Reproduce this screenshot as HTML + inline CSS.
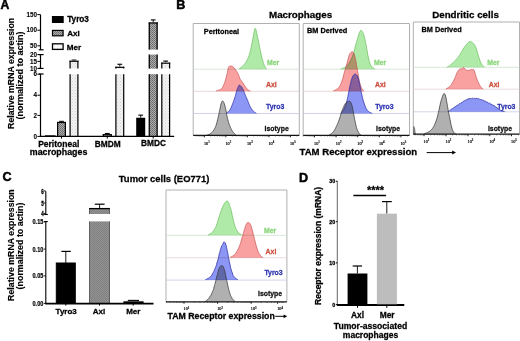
<!DOCTYPE html>
<html><head><meta charset="utf-8"><style>
html,body{margin:0;padding:0;background:#fff;}
svg{display:block;}
</style></head><body>
<svg width="520" height="341" viewBox="0 0 520 341" font-family="Liberation Sans, Arial, sans-serif">
<defs>
<pattern id="axl" width="2" height="2" patternUnits="userSpaceOnUse"><rect width="2" height="2" fill="#aaaaaa"/><rect width="1" height="1" fill="#6c6c6c"/><rect x="1" y="1" width="1" height="1" fill="#787878"/></pattern>
<pattern id="axlc" width="2" height="2" patternUnits="userSpaceOnUse"><rect width="2" height="2" fill="#939393"/><rect width="1" height="1" fill="#808080"/><rect x="1" y="1" width="1" height="1" fill="#808080"/></pattern>
<pattern id="mer" width="3" height="3" patternUnits="userSpaceOnUse"><rect width="3" height="3" fill="#f2f2f2"/><rect width="1" height="1" fill="#d4d4d4"/><rect x="1.5" y="1.5" width="1" height="1" fill="#dadada"/></pattern>
<pattern id="merl" width="3" height="3" patternUnits="userSpaceOnUse"><rect width="3" height="3" fill="#fafafa"/><rect width="1" height="1" fill="#e0e0e0"/></pattern>
</defs>
<rect width="520" height="341" fill="#fff"/>
<text x="0.5" y="9.3" font-size="12.2" font-weight="bold" text-anchor="start" fill="#000" stroke="#000" stroke-width="0.5" >A</text>
<text transform="translate(14.4,73.4) rotate(-90)" font-size="8.75" font-weight="bold" text-anchor="middle" fill="#000" stroke="#000" stroke-width="0.15">Relative mRNA expression</text>
<text transform="translate(22.6,75.5) rotate(-90)" font-size="9.0" font-weight="bold" text-anchor="middle" fill="#000" stroke="#000" stroke-width="0.15">(normalized to actin)</text>
<line x1="40.5" y1="14.6" x2="40.5" y2="49.8" stroke="#000" stroke-width="1.2" />
<line x1="40.5" y1="54.6" x2="40.5" y2="68.4" stroke="#000" stroke-width="1.2" />
<line x1="40.5" y1="74.0" x2="40.5" y2="136.4" stroke="#000" stroke-width="1.2" />
<line x1="38.7" y1="49.8" x2="43.6" y2="49.8" stroke="#000" stroke-width="1.2" />
<line x1="38.7" y1="54.6" x2="43.6" y2="54.6" stroke="#000" stroke-width="1.2" />
<line x1="38.7" y1="68.4" x2="43.6" y2="68.4" stroke="#000" stroke-width="1.2" />
<line x1="38.7" y1="74.0" x2="43.6" y2="74.0" stroke="#000" stroke-width="1.2" />
<line x1="37.4" y1="14.6" x2="40.5" y2="14.6" stroke="#000" stroke-width="1.0" />
<text x="37.0" y="16.8" font-size="6.3" font-weight="bold" text-anchor="end" fill="#000" stroke="#000" stroke-width="0.08" >150</text>
<line x1="37.4" y1="30.2" x2="40.5" y2="30.2" stroke="#000" stroke-width="1.0" />
<text x="37.0" y="32.4" font-size="6.3" font-weight="bold" text-anchor="end" fill="#000" stroke="#000" stroke-width="0.08" >100</text>
<line x1="37.4" y1="45.8" x2="40.5" y2="45.8" stroke="#000" stroke-width="1.0" />
<text x="37.0" y="48.0" font-size="6.3" font-weight="bold" text-anchor="end" fill="#000" stroke="#000" stroke-width="0.08" >50</text>
<line x1="37.4" y1="54.6" x2="40.5" y2="54.6" stroke="#000" stroke-width="1.0" />
<text x="37.0" y="56.8" font-size="6.3" font-weight="bold" text-anchor="end" fill="#000" stroke="#000" stroke-width="0.08" >20</text>
<line x1="37.4" y1="61.4" x2="40.5" y2="61.4" stroke="#000" stroke-width="1.0" />
<text x="37.0" y="63.6" font-size="6.3" font-weight="bold" text-anchor="end" fill="#000" stroke="#000" stroke-width="0.08" >15</text>
<line x1="37.4" y1="68.4" x2="40.5" y2="68.4" stroke="#000" stroke-width="1.0" />
<text x="37.0" y="70.6" font-size="6.3" font-weight="bold" text-anchor="end" fill="#000" stroke="#000" stroke-width="0.08" >10</text>
<line x1="37.4" y1="74.2" x2="40.5" y2="74.2" stroke="#000" stroke-width="1.0" />
<text x="37.0" y="76.4" font-size="6.3" font-weight="bold" text-anchor="end" fill="#000" stroke="#000" stroke-width="0.08" >6</text>
<line x1="37.4" y1="95.2" x2="40.5" y2="95.2" stroke="#000" stroke-width="1.0" />
<text x="37.0" y="97.4" font-size="6.3" font-weight="bold" text-anchor="end" fill="#000" stroke="#000" stroke-width="0.08" >4</text>
<line x1="37.4" y1="115.4" x2="40.5" y2="115.4" stroke="#000" stroke-width="1.0" />
<text x="37.0" y="117.6" font-size="6.3" font-weight="bold" text-anchor="end" fill="#000" stroke="#000" stroke-width="0.08" >2</text>
<line x1="37.4" y1="136.4" x2="40.5" y2="136.4" stroke="#000" stroke-width="1.0" />
<text x="37.0" y="138.6" font-size="6.3" font-weight="bold" text-anchor="end" fill="#000" stroke="#000" stroke-width="0.08" >0</text>
<rect x="44.5" y="136.09" width="9.0" height="0.6" fill="#000" stroke="none" stroke-width="0"/>
<line x1="61.5" y1="121.3635" x2="61.5" y2="121.882" stroke="#000" stroke-width="0.9" />
<line x1="59.1" y1="121.3635" x2="63.9" y2="121.3635" stroke="#000" stroke-width="1.1" />
<rect x="57.0" y="121.88" width="9.0" height="14.52" fill="url(#axl)" stroke="none" stroke-width="0"/>
<line x1="57.6" y1="121.882" x2="57.6" y2="136.4" stroke="#000" stroke-width="1.2" />
<line x1="65.4" y1="121.882" x2="65.4" y2="136.4" stroke="#000" stroke-width="1.2" />
<line x1="57.0" y1="122.48" x2="66.0" y2="122.48" stroke="#000" stroke-width="1.2" />
<line x1="74.0" y1="60.120000000000005" x2="74.0" y2="60.672000000000004" stroke="#000" stroke-width="0.9" />
<line x1="71.6" y1="60.120000000000005" x2="76.4" y2="60.120000000000005" stroke="#000" stroke-width="1.1" />
<rect x="69.5" y="60.67" width="9.0" height="7.93" fill="url(#mer)" stroke="none" stroke-width="0"/>
<line x1="70.1" y1="60.672000000000004" x2="70.1" y2="68.6" stroke="#000" stroke-width="1.2" />
<line x1="77.9" y1="60.672000000000004" x2="77.9" y2="68.6" stroke="#000" stroke-width="1.2" />
<line x1="69.5" y1="61.27" x2="78.5" y2="61.27" stroke="#000" stroke-width="1.2" />
<rect x="69.5" y="74.2" width="9.0" height="62.2" fill="url(#mer)" stroke="none" stroke-width="0"/>
<line x1="70.1" y1="74.2" x2="70.1" y2="136.4" stroke="#000" stroke-width="1.2" />
<line x1="77.9" y1="74.2" x2="77.9" y2="136.4" stroke="#000" stroke-width="1.2" />
<rect x="90.3" y="136.19" width="9.0" height="0.6" fill="#000" stroke="none" stroke-width="0"/>
<line x1="107.3" y1="133.4964" x2="107.3" y2="134.11860000000001" stroke="#000" stroke-width="0.9" />
<line x1="104.89999999999999" y1="133.4964" x2="109.7" y2="133.4964" stroke="#000" stroke-width="1.1" />
<rect x="102.8" y="134.12" width="9.0" height="2.28" fill="url(#axl)" stroke="none" stroke-width="0"/>
<line x1="103.4" y1="134.11860000000001" x2="103.4" y2="136.4" stroke="#000" stroke-width="1.2" />
<line x1="111.2" y1="134.11860000000001" x2="111.2" y2="136.4" stroke="#000" stroke-width="1.2" />
<line x1="102.8" y1="134.72" x2="111.8" y2="134.72" stroke="#000" stroke-width="1.2" />
<line x1="119.8" y1="64.26" x2="119.8" y2="66.744" stroke="#000" stroke-width="0.9" />
<line x1="117.39999999999999" y1="64.26" x2="122.2" y2="64.26" stroke="#000" stroke-width="1.1" />
<rect x="115.3" y="66.74" width="9.0" height="1.86" fill="url(#mer)" stroke="none" stroke-width="0"/>
<line x1="115.9" y1="66.744" x2="115.9" y2="68.6" stroke="#000" stroke-width="1.2" />
<line x1="123.7" y1="66.744" x2="123.7" y2="68.6" stroke="#000" stroke-width="1.2" />
<line x1="115.3" y1="67.34" x2="124.3" y2="67.34" stroke="#000" stroke-width="1.2" />
<rect x="115.3" y="74.2" width="9.0" height="62.2" fill="url(#mer)" stroke="none" stroke-width="0"/>
<line x1="115.9" y1="74.2" x2="115.9" y2="136.4" stroke="#000" stroke-width="1.2" />
<line x1="123.7" y1="74.2" x2="123.7" y2="136.4" stroke="#000" stroke-width="1.2" />
<line x1="140.7" y1="115.14150000000001" x2="140.7" y2="117.73400000000001" stroke="#000" stroke-width="0.9" />
<line x1="138.29999999999998" y1="115.14150000000001" x2="143.1" y2="115.14150000000001" stroke="#000" stroke-width="1.1" />
<rect x="136.2" y="117.73" width="9.0" height="18.67" fill="#000" stroke="none" stroke-width="0"/>
<line x1="153.2" y1="19.904" x2="153.2" y2="22.4" stroke="#000" stroke-width="0.9" />
<line x1="150.79999999999998" y1="19.904" x2="155.6" y2="19.904" stroke="#000" stroke-width="1.1" />
<rect x="148.7" y="22.4" width="9.0" height="27.2" fill="url(#axl)" stroke="none" stroke-width="0"/>
<line x1="149.3" y1="22.4" x2="149.3" y2="49.6" stroke="#000" stroke-width="1.2" />
<line x1="157.1" y1="22.4" x2="157.1" y2="49.6" stroke="#000" stroke-width="1.2" />
<line x1="148.7" y1="23.0" x2="157.7" y2="23.0" stroke="#000" stroke-width="1.2" />
<rect x="148.7" y="54.6" width="9.0" height="14.0" fill="url(#axl)" stroke="none" stroke-width="0"/>
<line x1="149.3" y1="54.6" x2="149.3" y2="68.6" stroke="#000" stroke-width="1.2" />
<line x1="157.1" y1="54.6" x2="157.1" y2="68.6" stroke="#000" stroke-width="1.2" />
<rect x="148.7" y="74.2" width="9.0" height="62.2" fill="url(#axl)" stroke="none" stroke-width="0"/>
<line x1="149.3" y1="74.2" x2="149.3" y2="136.4" stroke="#000" stroke-width="1.2" />
<line x1="157.1" y1="74.2" x2="157.1" y2="136.4" stroke="#000" stroke-width="1.2" />
<line x1="165.7" y1="61.086" x2="165.7" y2="62.604" stroke="#000" stroke-width="0.9" />
<line x1="163.29999999999998" y1="61.086" x2="168.1" y2="61.086" stroke="#000" stroke-width="1.1" />
<rect x="161.2" y="62.6" width="9.0" height="6.0" fill="url(#mer)" stroke="none" stroke-width="0"/>
<line x1="161.8" y1="62.604" x2="161.8" y2="68.6" stroke="#000" stroke-width="1.2" />
<line x1="169.6" y1="62.604" x2="169.6" y2="68.6" stroke="#000" stroke-width="1.2" />
<line x1="161.2" y1="63.2" x2="170.2" y2="63.2" stroke="#000" stroke-width="1.2" />
<rect x="161.2" y="74.2" width="9.0" height="62.2" fill="url(#mer)" stroke="none" stroke-width="0"/>
<line x1="161.8" y1="74.2" x2="161.8" y2="136.4" stroke="#000" stroke-width="1.2" />
<line x1="169.6" y1="74.2" x2="169.6" y2="136.4" stroke="#000" stroke-width="1.2" />
<line x1="39.9" y1="136.4" x2="174.2" y2="136.4" stroke="#000" stroke-width="1.4" />
<line x1="45.0" y1="135.5" x2="55.5" y2="135.5" stroke="#000" stroke-width="0.7" />
<line x1="61.5" y1="136.4" x2="61.5" y2="138.6" stroke="#000" stroke-width="1.0" />
<line x1="107.3" y1="136.4" x2="107.3" y2="138.6" stroke="#000" stroke-width="1.0" />
<line x1="153.2" y1="136.4" x2="153.2" y2="138.6" stroke="#000" stroke-width="1.0" />
<text x="58.7" y="146.9" font-size="8.5" font-weight="bold" text-anchor="middle" fill="#000" stroke="#000" stroke-width="0.26" >Peritoneal</text>
<text x="58.6" y="154.9" font-size="8.85" font-weight="bold" text-anchor="middle" fill="#000" stroke="#000" stroke-width="0.26" >macrophages</text>
<text x="107.7" y="146.9" font-size="8.3" font-weight="bold" text-anchor="middle" fill="#000" stroke="#000" stroke-width="0.26" >BMDM</text>
<text x="153.5" y="146.3" font-size="8.3" font-weight="bold" text-anchor="middle" fill="#000" stroke="#000" stroke-width="0.26" >BMDC</text>
<rect x="52.5" y="16.6" width="10.6" height="5.8" fill="#000" stroke="#000" stroke-width="1.2"/>
<rect x="52.5" y="30.4" width="10.6" height="5.4" fill="url(#axl)" stroke="#000" stroke-width="1.2"/>
<rect x="52.5" y="43.8" width="10.6" height="5.6" fill="url(#merl)" stroke="#000" stroke-width="1.3"/>
<text x="67.2" y="22.1" font-size="8.2" font-weight="bold" text-anchor="start" fill="#000" stroke="#000" stroke-width="0.26" >Tyro3</text>
<text x="67.2" y="36.0" font-size="8.1" font-weight="bold" text-anchor="start" fill="#000" stroke="#000" stroke-width="0.26" >Axl</text>
<text x="66.8" y="49.6" font-size="8.1" font-weight="bold" text-anchor="start" fill="#000" stroke="#000" stroke-width="0.26" >Mer</text>
<text x="176.2" y="9.3" font-size="12.6" font-weight="bold" text-anchor="start" fill="#000" stroke="#000" stroke-width="0.5" >B</text>
<text x="269.0" y="18.4" font-size="9.8" font-weight="bold" text-anchor="start" fill="#000" stroke="#000" stroke-width="0.26" >Macrophages</text>
<text x="432.2" y="18.2" font-size="9.75" font-weight="bold" text-anchor="start" fill="#000" stroke="#000" stroke-width="0.26" >Dendritic cells</text>
<path d="M193.2,135.3 L193.2,23.5 L299.3,23.5 L299.3,135.3" fill="none" stroke="#b0b0b0" stroke-width="1.0"/>
<text x="203.8" y="33.8" font-size="7.3" font-weight="bold" text-anchor="start" fill="#000" stroke="#000" stroke-width="0.26" >Peritoneal</text>
<line x1="193.2" y1="69.2" x2="299.3" y2="69.2" stroke="#cadcca" stroke-width="0.7" />
<line x1="193.2" y1="91.3" x2="299.3" y2="91.3" stroke="#e2caca" stroke-width="0.7" />
<line x1="193.2" y1="113.5" x2="299.3" y2="113.5" stroke="#c0c2e4" stroke-width="0.7" />
<path d="M303.2,135.3 L303.2,23.5 L409.5,23.5 L409.5,135.3" fill="none" stroke="#b0b0b0" stroke-width="1.0"/>
<text x="307.0" y="32.6" font-size="7.3" font-weight="bold" text-anchor="start" fill="#000" stroke="#000" stroke-width="0.26" >BM Derived</text>
<line x1="303.2" y1="69.2" x2="409.5" y2="69.2" stroke="#cadcca" stroke-width="0.7" />
<line x1="303.2" y1="91.3" x2="409.5" y2="91.3" stroke="#e2caca" stroke-width="0.7" />
<line x1="303.2" y1="113.5" x2="409.5" y2="113.5" stroke="#c0c2e4" stroke-width="0.7" />
<path d="M413.3,134.2 L413.3,22.0 L519.5,22.0 L519.5,134.2" fill="none" stroke="#b0b0b0" stroke-width="1.0"/>
<text x="421.5" y="31.6" font-size="7.3" font-weight="bold" text-anchor="start" fill="#000" stroke="#000" stroke-width="0.26" >BM Derived</text>
<line x1="413.3" y1="67.3" x2="519.5" y2="67.3" stroke="#cadcca" stroke-width="0.7" />
<line x1="413.3" y1="89.2" x2="519.5" y2="89.2" stroke="#e2caca" stroke-width="0.7" />
<line x1="413.3" y1="111.8" x2="519.5" y2="111.8" stroke="#c0c2e4" stroke-width="0.7" />
<path d="M238.50,69.20 L238.50,69.20 L238.70,69.05 L238.95,68.88 L239.25,68.68 L239.58,68.46 L239.94,68.22 L240.32,67.96 L240.72,67.69 L241.13,67.40 L241.54,67.10 L241.94,66.79 L242.34,66.47 L242.72,66.15 L243.08,65.83 L243.40,65.50 L243.82,65.04 L244.23,64.57 L244.62,64.09 L245.00,63.59 L245.37,63.08 L245.73,62.54 L246.08,61.97 L246.42,61.38 L246.76,60.76 L247.10,60.10 L247.51,59.25 L247.90,58.39 L248.29,57.49 L248.66,56.55 L249.02,55.54 L249.38,54.46 L249.74,53.28 L250.10,52.00 L250.47,50.55 L250.84,48.92 L251.21,47.17 L251.58,45.36 L251.94,43.54 L252.28,41.76 L252.60,40.10 L252.90,38.60 L253.41,35.83 L253.85,33.27 L254.24,31.13 L254.60,29.60 L255.00,28.53 L255.35,28.44 L255.80,29.40 L256.15,30.57 L256.55,32.20 L256.97,34.17 L257.43,36.34 L257.90,38.60 L258.26,40.34 L258.65,42.28 L259.05,44.33 L259.46,46.41 L259.86,48.44 L260.25,50.33 L260.60,52.00 L261.05,54.00 L261.46,55.75 L261.85,57.31 L262.22,58.74 L262.60,60.10 L262.96,61.38 L263.30,62.54 L263.63,63.59 L263.99,64.57 L264.40,65.50 L264.75,66.15 L265.16,66.79 L265.59,67.40 L266.03,67.96 L266.42,68.46 L266.76,68.88 L267.00,69.20 L267.00,69.20 Z" fill="rgb(176,234,168)" style="mix-blend-mode:multiply" stroke="none"/>
<path d="M239.25,68.68 L239.58,68.46 L239.94,68.22 L240.32,67.96 L240.72,67.69 L241.13,67.40 L241.54,67.10 L241.94,66.79 L242.34,66.47 L242.72,66.15 L243.08,65.83 L243.40,65.50 L243.82,65.04 L244.23,64.57 L244.62,64.09 L245.00,63.59 L245.37,63.08 L245.73,62.54 L246.08,61.97 L246.42,61.38 L246.76,60.76 L247.10,60.10 L247.51,59.25 L247.90,58.39 L248.29,57.49 L248.66,56.55 L249.02,55.54 L249.38,54.46 L249.74,53.28 L250.10,52.00 L250.47,50.55 L250.84,48.92 L251.21,47.17 L251.58,45.36 L251.94,43.54 L252.28,41.76 L252.60,40.10 L252.90,38.60 L253.41,35.83 L253.85,33.27 L254.24,31.13 L254.60,29.60 L255.00,28.53 L255.35,28.44 L255.80,29.40 L256.15,30.57 L256.55,32.20 L256.97,34.17 L257.43,36.34 L257.90,38.60 L258.26,40.34 L258.65,42.28 L259.05,44.33 L259.46,46.41 L259.86,48.44 L260.25,50.33 L260.60,52.00 L261.05,54.00 L261.46,55.75 L261.85,57.31 L262.22,58.74 L262.60,60.10 L262.96,61.38 L263.30,62.54 L263.63,63.59 L263.99,64.57 L264.40,65.50 L264.75,66.15 L265.16,66.79 L265.59,67.40 L266.03,67.96 L266.42,68.46" fill="none" stroke="#6cc060" stroke-width="0.75" stroke-linejoin="round"/>
<path d="M214.50,91.30 L214.50,91.30 L214.73,91.24 L215.02,91.18 L215.37,91.10 L215.76,91.01 L216.18,90.90 L216.62,90.78 L217.06,90.65 L217.50,90.50 L217.82,90.39 L218.17,90.29 L218.53,90.19 L218.90,90.09 L219.27,89.98 L219.65,89.85 L220.02,89.71 L220.39,89.53 L220.75,89.33 L221.08,89.09 L221.40,88.80 L221.86,88.27 L222.29,87.66 L222.70,86.98 L223.09,86.23 L223.47,85.43 L223.84,84.58 L224.20,83.70 L224.62,82.60 L225.02,81.41 L225.41,80.16 L225.78,78.86 L226.15,77.54 L226.50,76.20 L226.92,74.45 L227.32,72.53 L227.71,70.64 L228.07,68.96 L228.40,67.70 L228.79,66.66 L229.11,66.40 L229.60,66.30 L229.87,66.21 L230.18,66.12 L230.52,66.05 L230.88,66.01 L231.26,66.00 L231.64,66.04 L232.02,66.13 L232.40,66.30 L232.78,66.55 L233.16,66.86 L233.55,67.23 L233.95,67.66 L234.35,68.11 L234.74,68.60 L235.12,69.10 L235.50,69.60 L235.87,70.12 L236.24,70.68 L236.62,71.26 L236.98,71.86 L237.34,72.48 L237.68,73.09 L238.00,73.70 L238.30,74.30 L238.73,75.28 L239.11,76.31 L239.46,77.32 L239.78,78.24 L240.10,79.00 L240.47,79.65 L240.79,80.07 L241.12,80.43 L241.50,80.90 L241.84,81.39 L242.20,81.91 L242.58,82.47 L242.98,83.07 L243.40,83.70 L243.77,84.27 L244.15,84.90 L244.54,85.55 L244.95,86.20 L245.37,86.83 L245.80,87.40 L246.18,87.86 L246.57,88.32 L246.96,88.75 L247.37,89.17 L247.77,89.55 L248.19,89.90 L248.60,90.20 L248.99,90.43 L249.41,90.62 L249.84,90.79 L250.28,90.92 L250.69,91.04 L251.06,91.14 L251.37,91.23 L251.60,91.30 L251.60,91.30 Z" fill="rgb(249,160,160)" style="mix-blend-mode:multiply" stroke="none"/>
<path d="M216.18,90.90 L216.62,90.78 L217.06,90.65 L217.50,90.50 L217.82,90.39 L218.17,90.29 L218.53,90.19 L218.90,90.09 L219.27,89.98 L219.65,89.85 L220.02,89.71 L220.39,89.53 L220.75,89.33 L221.08,89.09 L221.40,88.80 L221.86,88.27 L222.29,87.66 L222.70,86.98 L223.09,86.23 L223.47,85.43 L223.84,84.58 L224.20,83.70 L224.62,82.60 L225.02,81.41 L225.41,80.16 L225.78,78.86 L226.15,77.54 L226.50,76.20 L226.92,74.45 L227.32,72.53 L227.71,70.64 L228.07,68.96 L228.40,67.70 L228.79,66.66 L229.11,66.40 L229.60,66.30 L229.87,66.21 L230.18,66.12 L230.52,66.05 L230.88,66.01 L231.26,66.00 L231.64,66.04 L232.02,66.13 L232.40,66.30 L232.78,66.55 L233.16,66.86 L233.55,67.23 L233.95,67.66 L234.35,68.11 L234.74,68.60 L235.12,69.10 L235.50,69.60 L235.87,70.12 L236.24,70.68 L236.62,71.26 L236.98,71.86 L237.34,72.48 L237.68,73.09 L238.00,73.70 L238.30,74.30 L238.73,75.28 L239.11,76.31 L239.46,77.32 L239.78,78.24 L240.10,79.00 L240.47,79.65 L240.79,80.07 L241.12,80.43 L241.50,80.90 L241.84,81.39 L242.20,81.91 L242.58,82.47 L242.98,83.07 L243.40,83.70 L243.77,84.27 L244.15,84.90 L244.54,85.55 L244.95,86.20 L245.37,86.83 L245.80,87.40 L246.18,87.86 L246.57,88.32 L246.96,88.75 L247.37,89.17 L247.77,89.55 L248.19,89.90 L248.60,90.20 L248.99,90.43 L249.41,90.62 L249.84,90.79 L250.28,90.92" fill="none" stroke="#c85a5a" stroke-width="0.75" stroke-linejoin="round"/>
<path d="M225.50,113.50 L225.50,113.50 L225.73,113.34 L226.02,113.16 L226.37,112.96 L226.77,112.72 L227.19,112.46 L227.64,112.18 L228.08,111.86 L228.53,111.52 L228.95,111.14 L229.35,110.74 L229.70,110.30 L230.14,109.62 L230.55,108.85 L230.94,108.01 L231.31,107.12 L231.67,106.21 L232.02,105.28 L232.36,104.37 L232.70,103.50 L233.14,102.37 L233.56,101.23 L233.97,100.10 L234.36,98.97 L234.74,97.83 L235.10,96.70 L235.52,95.29 L235.92,93.84 L236.29,92.40 L236.65,91.07 L237.00,89.90 L237.42,88.67 L237.81,87.64 L238.18,86.78 L238.50,86.10 L238.98,85.31 L239.40,85.10 L239.89,85.39 L240.40,85.90 L240.84,86.09 L241.40,86.60 L241.72,87.07 L242.10,87.66 L242.50,88.34 L242.91,89.10 L243.30,89.90 L243.67,90.76 L244.03,91.70 L244.40,92.70 L244.78,93.74 L245.20,94.80 L245.53,95.58 L245.87,96.39 L246.23,97.22 L246.60,98.07 L246.98,98.92 L247.34,99.76 L247.70,100.60 L248.10,101.58 L248.49,102.59 L248.87,103.59 L249.27,104.57 L249.67,105.51 L250.10,106.40 L250.44,107.03 L250.79,107.65 L251.15,108.25 L251.52,108.83 L251.89,109.37 L252.26,109.89 L252.63,110.36 L253.00,110.80 L253.36,111.19 L253.72,111.54 L254.09,111.86 L254.45,112.14 L254.81,112.40 L255.18,112.62 L255.54,112.82 L255.90,113.00 L256.28,113.15 L256.69,113.26 L257.11,113.33 L257.53,113.39 L257.92,113.42 L258.28,113.45 L258.58,113.47 L258.80,113.50 L258.80,113.50 Z" fill="rgb(140,150,244)" style="mix-blend-mode:multiply" stroke="none"/>
<path d="M226.37,112.96 L226.77,112.72 L227.19,112.46 L227.64,112.18 L228.08,111.86 L228.53,111.52 L228.95,111.14 L229.35,110.74 L229.70,110.30 L230.14,109.62 L230.55,108.85 L230.94,108.01 L231.31,107.12 L231.67,106.21 L232.02,105.28 L232.36,104.37 L232.70,103.50 L233.14,102.37 L233.56,101.23 L233.97,100.10 L234.36,98.97 L234.74,97.83 L235.10,96.70 L235.52,95.29 L235.92,93.84 L236.29,92.40 L236.65,91.07 L237.00,89.90 L237.42,88.67 L237.81,87.64 L238.18,86.78 L238.50,86.10 L238.98,85.31 L239.40,85.10 L239.89,85.39 L240.40,85.90 L240.84,86.09 L241.40,86.60 L241.72,87.07 L242.10,87.66 L242.50,88.34 L242.91,89.10 L243.30,89.90 L243.67,90.76 L244.03,91.70 L244.40,92.70 L244.78,93.74 L245.20,94.80 L245.53,95.58 L245.87,96.39 L246.23,97.22 L246.60,98.07 L246.98,98.92 L247.34,99.76 L247.70,100.60 L248.10,101.58 L248.49,102.59 L248.87,103.59 L249.27,104.57 L249.67,105.51 L250.10,106.40 L250.44,107.03 L250.79,107.65 L251.15,108.25 L251.52,108.83 L251.89,109.37 L252.26,109.89 L252.63,110.36 L253.00,110.80 L253.36,111.19 L253.72,111.54 L254.09,111.86 L254.45,112.14 L254.81,112.40 L255.18,112.62 L255.54,112.82 L255.90,113.00 L256.28,113.15" fill="none" stroke="#2e2ea6" stroke-width="0.75" stroke-linejoin="round"/>
<path d="M205.50,135.30 L205.50,135.30 L205.73,135.25 L206.03,135.18 L206.38,135.11 L206.78,135.03 L207.21,134.92 L207.64,134.80 L208.08,134.66 L208.50,134.50 L208.83,134.37 L209.17,134.24 L209.51,134.11 L209.86,133.97 L210.21,133.82 L210.57,133.64 L210.93,133.42 L211.29,133.17 L211.64,132.86 L212.00,132.50 L212.36,132.08 L212.73,131.61 L213.11,131.09 L213.50,130.53 L213.88,129.94 L214.25,129.31 L214.61,128.66 L214.96,127.99 L215.29,127.30 L215.60,126.60 L216.06,125.37 L216.48,124.04 L216.86,122.64 L217.22,121.22 L217.56,119.79 L217.90,118.40 L218.29,116.75 L218.66,115.09 L219.01,113.44 L219.35,111.80 L219.70,110.20 L220.14,108.11 L220.57,105.98 L221.00,104.06 L221.40,102.60 L221.77,101.70 L222.11,101.21 L222.45,101.04 L222.80,101.10 L223.17,101.37 L223.54,101.90 L223.92,102.68 L224.30,103.70 L224.69,105.01 L225.09,106.60 L225.50,108.36 L225.90,110.20 L226.29,112.16 L226.67,114.27 L227.06,116.39 L227.50,118.40 L227.88,119.89 L228.27,121.34 L228.68,122.74 L229.12,124.09 L229.60,125.40 L229.92,126.21 L230.25,127.00 L230.60,127.79 L230.96,128.56 L231.33,129.30 L231.71,130.01 L232.10,130.68 L232.50,131.30 L232.84,131.77 L233.21,132.24 L233.60,132.68 L234.00,133.10 L234.39,133.50 L234.78,133.87 L235.16,134.21 L235.51,134.51 L235.83,134.78 L236.10,135.00 L236.64,135.30 L237.02,135.30 L237.30,135.30 L237.50,135.30 L237.50,135.30 Z" fill="rgb(176,176,176)" style="mix-blend-mode:multiply" stroke="none"/>
<path d="M207.21,134.92 L207.64,134.80 L208.08,134.66 L208.50,134.50 L208.83,134.37 L209.17,134.24 L209.51,134.11 L209.86,133.97 L210.21,133.82 L210.57,133.64 L210.93,133.42 L211.29,133.17 L211.64,132.86 L212.00,132.50 L212.36,132.08 L212.73,131.61 L213.11,131.09 L213.50,130.53 L213.88,129.94 L214.25,129.31 L214.61,128.66 L214.96,127.99 L215.29,127.30 L215.60,126.60 L216.06,125.37 L216.48,124.04 L216.86,122.64 L217.22,121.22 L217.56,119.79 L217.90,118.40 L218.29,116.75 L218.66,115.09 L219.01,113.44 L219.35,111.80 L219.70,110.20 L220.14,108.11 L220.57,105.98 L221.00,104.06 L221.40,102.60 L221.77,101.70 L222.11,101.21 L222.45,101.04 L222.80,101.10 L223.17,101.37 L223.54,101.90 L223.92,102.68 L224.30,103.70 L224.69,105.01 L225.09,106.60 L225.50,108.36 L225.90,110.20 L226.29,112.16 L226.67,114.27 L227.06,116.39 L227.50,118.40 L227.88,119.89 L228.27,121.34 L228.68,122.74 L229.12,124.09 L229.60,125.40 L229.92,126.21 L230.25,127.00 L230.60,127.79 L230.96,128.56 L231.33,129.30 L231.71,130.01 L232.10,130.68 L232.50,131.30 L232.84,131.77 L233.21,132.24 L233.60,132.68 L234.00,133.10 L234.39,133.50 L234.78,133.87 L235.16,134.21 L235.51,134.51 L235.83,134.78" fill="none" stroke="#383838" stroke-width="0.75" stroke-linejoin="round"/>
<path d="M338.50,69.20 L338.50,69.20 L338.69,69.19 L338.93,69.19 L339.21,69.19 L339.55,69.17 L339.95,69.12 L340.43,69.00 L341.00,68.80 L341.27,68.70 L341.56,68.61 L341.87,68.51 L342.20,68.41 L342.55,68.31 L342.92,68.20 L343.29,68.07 L343.67,67.94 L344.06,67.79 L344.46,67.63 L344.85,67.44 L345.25,67.24 L345.64,67.01 L346.02,66.75 L346.39,66.47 L346.75,66.15 L347.10,65.80 L347.49,65.36 L347.88,64.86 L348.27,64.31 L348.66,63.73 L349.05,63.11 L349.44,62.46 L349.82,61.79 L350.20,61.10 L350.57,60.40 L350.93,59.70 L351.27,59.00 L351.60,58.30 L351.92,57.61 L352.22,56.94 L352.50,56.30 L353.03,54.95 L353.47,53.61 L353.85,52.27 L354.18,50.93 L354.51,49.59 L354.84,48.25 L355.20,46.90 L355.59,45.52 L355.99,44.09 L356.39,42.65 L356.78,41.23 L357.17,39.86 L357.55,38.57 L357.90,37.40 L358.29,36.14 L358.67,34.96 L359.04,33.87 L359.38,32.90 L359.70,32.07 L360.00,31.40 L360.47,30.55 L360.84,30.25 L361.30,30.40 L361.65,30.66 L362.04,31.07 L362.46,31.64 L362.88,32.41 L363.30,33.40 L363.72,34.67 L364.15,36.21 L364.58,37.92 L365.00,39.72 L365.40,41.50 L365.86,43.79 L366.28,46.20 L366.69,48.61 L367.10,50.90 L367.50,53.06 L367.88,55.16 L368.27,57.15 L368.70,59.00 L369.05,60.39 L369.40,61.71 L369.78,62.95 L370.20,64.08 L370.70,65.10 L371.02,65.61 L371.37,66.09 L371.75,66.53 L372.14,66.94 L372.55,67.32 L372.95,67.67 L373.35,67.98 L373.74,68.26 L374.10,68.50 L374.51,68.72 L374.93,68.88 L375.35,68.99 L375.76,69.06 L376.15,69.11 L376.49,69.14 L376.78,69.16 L377.00,69.20 L377.00,69.20 Z" fill="rgb(176,234,168)" style="mix-blend-mode:multiply" stroke="none"/>
<path d="M341.00,68.80 L341.27,68.70 L341.56,68.61 L341.87,68.51 L342.20,68.41 L342.55,68.31 L342.92,68.20 L343.29,68.07 L343.67,67.94 L344.06,67.79 L344.46,67.63 L344.85,67.44 L345.25,67.24 L345.64,67.01 L346.02,66.75 L346.39,66.47 L346.75,66.15 L347.10,65.80 L347.49,65.36 L347.88,64.86 L348.27,64.31 L348.66,63.73 L349.05,63.11 L349.44,62.46 L349.82,61.79 L350.20,61.10 L350.57,60.40 L350.93,59.70 L351.27,59.00 L351.60,58.30 L351.92,57.61 L352.22,56.94 L352.50,56.30 L353.03,54.95 L353.47,53.61 L353.85,52.27 L354.18,50.93 L354.51,49.59 L354.84,48.25 L355.20,46.90 L355.59,45.52 L355.99,44.09 L356.39,42.65 L356.78,41.23 L357.17,39.86 L357.55,38.57 L357.90,37.40 L358.29,36.14 L358.67,34.96 L359.04,33.87 L359.38,32.90 L359.70,32.07 L360.00,31.40 L360.47,30.55 L360.84,30.25 L361.30,30.40 L361.65,30.66 L362.04,31.07 L362.46,31.64 L362.88,32.41 L363.30,33.40 L363.72,34.67 L364.15,36.21 L364.58,37.92 L365.00,39.72 L365.40,41.50 L365.86,43.79 L366.28,46.20 L366.69,48.61 L367.10,50.90 L367.50,53.06 L367.88,55.16 L368.27,57.15 L368.70,59.00 L369.05,60.39 L369.40,61.71 L369.78,62.95 L370.20,64.08 L370.70,65.10 L371.02,65.61 L371.37,66.09 L371.75,66.53 L372.14,66.94 L372.55,67.32 L372.95,67.67 L373.35,67.98 L373.74,68.26 L374.10,68.50 L374.51,68.72" fill="none" stroke="#6cc060" stroke-width="0.75" stroke-linejoin="round"/>
<path d="M331.00,91.30 L331.00,91.30 L331.22,91.29 L331.49,91.30 L331.82,91.30 L332.23,91.26 L332.72,91.13 L333.30,90.90 L333.57,90.78 L333.87,90.64 L334.20,90.49 L334.55,90.34 L334.92,90.17 L335.30,89.98 L335.69,89.79 L336.09,89.58 L336.48,89.36 L336.87,89.12 L337.25,88.87 L337.62,88.60 L337.97,88.32 L338.30,88.02 L338.60,87.70 L339.06,87.13 L339.48,86.51 L339.87,85.85 L340.24,85.14 L340.59,84.40 L340.93,83.62 L341.25,82.81 L341.58,81.97 L341.90,81.10 L342.31,79.92 L342.69,78.66 L343.06,77.34 L343.42,75.99 L343.77,74.61 L344.13,73.24 L344.50,71.90 L344.89,70.56 L345.29,69.19 L345.69,67.81 L346.09,66.44 L346.48,65.11 L346.86,63.82 L347.20,62.60 L347.64,60.95 L348.03,59.35 L348.40,57.86 L348.75,56.52 L349.10,55.40 L349.52,54.37 L349.91,53.66 L350.30,53.14 L350.70,52.70 L351.12,52.28 L351.54,51.94 L351.97,51.76 L352.40,51.80 L352.76,51.98 L353.13,52.27 L353.50,52.70 L353.86,53.27 L354.20,54.00 L354.60,55.19 L354.97,56.64 L355.34,58.28 L355.70,60.00 L356.06,61.84 L356.41,63.83 L356.76,65.88 L357.10,67.90 L357.54,70.58 L357.97,73.26 L358.40,75.80 L358.81,78.15 L359.21,80.37 L359.70,82.50 L360.05,83.78 L360.42,85.08 L360.82,86.32 L361.25,87.44 L361.70,88.40 L362.05,88.96 L362.43,89.45 L362.82,89.87 L363.22,90.22 L363.61,90.52 L363.97,90.78 L364.30,91.00 L364.83,91.24 L365.31,91.30 L365.72,91.30 L366.00,91.30 L366.00,91.30 Z" fill="rgb(249,160,160)" style="mix-blend-mode:multiply" stroke="none"/>
<path d="M333.30,90.90 L333.57,90.78 L333.87,90.64 L334.20,90.49 L334.55,90.34 L334.92,90.17 L335.30,89.98 L335.69,89.79 L336.09,89.58 L336.48,89.36 L336.87,89.12 L337.25,88.87 L337.62,88.60 L337.97,88.32 L338.30,88.02 L338.60,87.70 L339.06,87.13 L339.48,86.51 L339.87,85.85 L340.24,85.14 L340.59,84.40 L340.93,83.62 L341.25,82.81 L341.58,81.97 L341.90,81.10 L342.31,79.92 L342.69,78.66 L343.06,77.34 L343.42,75.99 L343.77,74.61 L344.13,73.24 L344.50,71.90 L344.89,70.56 L345.29,69.19 L345.69,67.81 L346.09,66.44 L346.48,65.11 L346.86,63.82 L347.20,62.60 L347.64,60.95 L348.03,59.35 L348.40,57.86 L348.75,56.52 L349.10,55.40 L349.52,54.37 L349.91,53.66 L350.30,53.14 L350.70,52.70 L351.12,52.28 L351.54,51.94 L351.97,51.76 L352.40,51.80 L352.76,51.98 L353.13,52.27 L353.50,52.70 L353.86,53.27 L354.20,54.00 L354.60,55.19 L354.97,56.64 L355.34,58.28 L355.70,60.00 L356.06,61.84 L356.41,63.83 L356.76,65.88 L357.10,67.90 L357.54,70.58 L357.97,73.26 L358.40,75.80 L358.81,78.15 L359.21,80.37 L359.70,82.50 L360.05,83.78 L360.42,85.08 L360.82,86.32 L361.25,87.44 L361.70,88.40 L362.05,88.96 L362.43,89.45 L362.82,89.87 L363.22,90.22 L363.61,90.52 L363.97,90.78" fill="none" stroke="#c85a5a" stroke-width="0.75" stroke-linejoin="round"/>
<path d="M339.00,113.50 L339.00,113.50 L339.25,113.46 L339.59,113.42 L339.99,113.37 L340.43,113.27 L340.87,113.09 L341.30,112.80 L341.65,112.48 L342.02,112.11 L342.39,111.70 L342.76,111.21 L343.14,110.66 L343.52,110.02 L343.90,109.30 L344.29,108.47 L344.68,107.55 L345.09,106.54 L345.49,105.46 L345.88,104.33 L346.25,103.18 L346.60,102.00 L347.05,100.28 L347.46,98.46 L347.84,96.58 L348.22,94.68 L348.60,92.80 L348.98,90.90 L349.36,88.96 L349.74,87.03 L350.12,85.19 L350.50,83.50 L350.90,81.94 L351.31,80.46 L351.72,79.11 L352.12,77.91 L352.50,76.90 L352.95,75.95 L353.38,75.30 L353.79,74.85 L354.20,74.50 L354.60,74.23 L354.98,74.09 L355.37,74.10 L355.80,74.30 L356.18,74.58 L356.59,74.95 L357.00,75.44 L357.41,76.08 L357.80,76.90 L358.24,78.21 L358.66,79.78 L359.07,81.57 L359.50,83.50 L359.86,85.19 L360.23,87.03 L360.60,88.96 L360.99,90.90 L361.40,92.80 L361.75,94.36 L362.11,95.94 L362.48,97.53 L362.87,99.08 L363.27,100.58 L363.70,102.00 L364.04,103.03 L364.38,104.05 L364.74,105.05 L365.11,106.02 L365.49,106.94 L365.88,107.80 L366.29,108.59 L366.70,109.30 L367.04,109.80 L367.39,110.25 L367.75,110.66 L368.12,111.02 L368.49,111.35 L368.87,111.64 L369.25,111.91 L369.64,112.16 L370.02,112.39 L370.40,112.60 L370.76,112.78 L371.15,112.92 L371.55,113.04 L371.97,113.14 L372.38,113.22 L372.78,113.29 L373.16,113.34 L373.51,113.38 L373.83,113.42 L374.09,113.46 L374.30,113.50 L374.30,113.50 Z" fill="rgb(140,150,244)" style="mix-blend-mode:multiply" stroke="none"/>
<path d="M340.87,113.09 L341.30,112.80 L341.65,112.48 L342.02,112.11 L342.39,111.70 L342.76,111.21 L343.14,110.66 L343.52,110.02 L343.90,109.30 L344.29,108.47 L344.68,107.55 L345.09,106.54 L345.49,105.46 L345.88,104.33 L346.25,103.18 L346.60,102.00 L347.05,100.28 L347.46,98.46 L347.84,96.58 L348.22,94.68 L348.60,92.80 L348.98,90.90 L349.36,88.96 L349.74,87.03 L350.12,85.19 L350.50,83.50 L350.90,81.94 L351.31,80.46 L351.72,79.11 L352.12,77.91 L352.50,76.90 L352.95,75.95 L353.38,75.30 L353.79,74.85 L354.20,74.50 L354.60,74.23 L354.98,74.09 L355.37,74.10 L355.80,74.30 L356.18,74.58 L356.59,74.95 L357.00,75.44 L357.41,76.08 L357.80,76.90 L358.24,78.21 L358.66,79.78 L359.07,81.57 L359.50,83.50 L359.86,85.19 L360.23,87.03 L360.60,88.96 L360.99,90.90 L361.40,92.80 L361.75,94.36 L362.11,95.94 L362.48,97.53 L362.87,99.08 L363.27,100.58 L363.70,102.00 L364.04,103.03 L364.38,104.05 L364.74,105.05 L365.11,106.02 L365.49,106.94 L365.88,107.80 L366.29,108.59 L366.70,109.30 L367.04,109.80 L367.39,110.25 L367.75,110.66 L368.12,111.02 L368.49,111.35 L368.87,111.64 L369.25,111.91 L369.64,112.16 L370.02,112.39 L370.40,112.60 L370.76,112.78 L371.15,112.92 L371.55,113.04 L371.97,113.14" fill="none" stroke="#2e2ea6" stroke-width="0.75" stroke-linejoin="round"/>
<path d="M326.00,135.30 L326.00,135.30 L326.22,135.30 L326.51,135.30 L326.85,135.30 L327.24,135.30 L327.66,135.30 L328.12,135.26 L328.60,135.10 L328.92,134.96 L329.27,134.81 L329.65,134.63 L330.03,134.44 L330.43,134.23 L330.84,133.99 L331.25,133.73 L331.65,133.44 L332.05,133.13 L332.43,132.78 L332.80,132.40 L333.19,131.94 L333.57,131.43 L333.94,130.88 L334.31,130.30 L334.68,129.69 L335.03,129.05 L335.38,128.40 L335.73,127.74 L336.07,127.07 L336.40,126.40 L336.81,125.54 L337.22,124.64 L337.62,123.70 L338.01,122.75 L338.39,121.80 L338.75,120.86 L339.09,119.96 L339.40,119.10 L339.84,117.80 L340.21,116.55 L340.54,115.35 L340.86,114.20 L341.20,113.10 L341.55,112.06 L341.89,111.09 L342.24,110.16 L342.60,109.24 L343.00,108.30 L343.37,107.47 L343.76,106.59 L344.16,105.71 L344.58,104.88 L344.99,104.13 L345.40,103.50 L345.80,103.01 L346.20,102.61 L346.59,102.30 L346.99,102.06 L347.39,101.86 L347.80,101.70 L348.16,101.57 L348.53,101.45 L348.90,101.35 L349.27,101.31 L349.63,101.34 L349.98,101.46 L350.30,101.70 L350.71,102.22 L351.09,102.93 L351.44,103.80 L351.78,104.80 L352.10,105.90 L352.59,108.03 L353.03,110.50 L353.50,113.10 L353.88,115.14 L354.28,117.29 L354.68,119.45 L355.10,121.50 L355.44,123.07 L355.78,124.62 L356.13,126.11 L356.50,127.52 L356.90,128.80 L357.27,129.78 L357.66,130.71 L358.06,131.56 L358.48,132.34 L358.89,133.02 L359.30,133.60 L359.71,134.06 L360.14,134.39 L360.57,134.64 L360.98,134.82 L361.36,134.96 L361.70,135.10 L362.26,135.27 L362.70,135.30 L363.00,135.30 L363.00,135.30 Z" fill="rgb(176,176,176)" style="mix-blend-mode:multiply" stroke="none"/>
<path d="M329.27,134.81 L329.65,134.63 L330.03,134.44 L330.43,134.23 L330.84,133.99 L331.25,133.73 L331.65,133.44 L332.05,133.13 L332.43,132.78 L332.80,132.40 L333.19,131.94 L333.57,131.43 L333.94,130.88 L334.31,130.30 L334.68,129.69 L335.03,129.05 L335.38,128.40 L335.73,127.74 L336.07,127.07 L336.40,126.40 L336.81,125.54 L337.22,124.64 L337.62,123.70 L338.01,122.75 L338.39,121.80 L338.75,120.86 L339.09,119.96 L339.40,119.10 L339.84,117.80 L340.21,116.55 L340.54,115.35 L340.86,114.20 L341.20,113.10 L341.55,112.06 L341.89,111.09 L342.24,110.16 L342.60,109.24 L343.00,108.30 L343.37,107.47 L343.76,106.59 L344.16,105.71 L344.58,104.88 L344.99,104.13 L345.40,103.50 L345.80,103.01 L346.20,102.61 L346.59,102.30 L346.99,102.06 L347.39,101.86 L347.80,101.70 L348.16,101.57 L348.53,101.45 L348.90,101.35 L349.27,101.31 L349.63,101.34 L349.98,101.46 L350.30,101.70 L350.71,102.22 L351.09,102.93 L351.44,103.80 L351.78,104.80 L352.10,105.90 L352.59,108.03 L353.03,110.50 L353.50,113.10 L353.88,115.14 L354.28,117.29 L354.68,119.45 L355.10,121.50 L355.44,123.07 L355.78,124.62 L356.13,126.11 L356.50,127.52 L356.90,128.80 L357.27,129.78 L357.66,130.71 L358.06,131.56 L358.48,132.34 L358.89,133.02 L359.30,133.60 L359.71,134.06 L360.14,134.39 L360.57,134.64 L360.98,134.82" fill="none" stroke="#383838" stroke-width="0.75" stroke-linejoin="round"/>
<path d="M443.00,67.30 L443.00,67.30 L443.22,67.28 L443.50,67.26 L443.82,67.24 L444.19,67.23 L444.59,67.20 L445.01,67.18 L445.44,67.15 L445.89,67.10 L446.33,67.05 L446.76,66.99 L447.17,66.91 L447.55,66.81 L447.90,66.70 L448.31,66.53 L448.69,66.33 L449.06,66.11 L449.40,65.88 L449.74,65.62 L450.08,65.34 L450.42,65.05 L450.76,64.75 L451.12,64.43 L451.50,64.10 L451.86,63.79 L452.23,63.46 L452.60,63.12 L452.99,62.77 L453.37,62.40 L453.76,62.02 L454.15,61.64 L454.55,61.24 L454.93,60.83 L455.32,60.42 L455.70,60.00 L456.08,59.57 L456.46,59.14 L456.84,58.69 L457.22,58.23 L457.60,57.77 L457.98,57.29 L458.35,56.81 L458.72,56.32 L459.09,55.82 L459.45,55.31 L459.80,54.80 L460.18,54.21 L460.56,53.59 L460.93,52.95 L461.30,52.30 L461.66,51.64 L462.01,50.98 L462.37,50.34 L462.71,49.73 L463.06,49.14 L463.40,48.60 L463.78,48.04 L464.15,47.50 L464.52,46.99 L464.88,46.51 L465.24,46.05 L465.59,45.61 L465.94,45.19 L466.27,44.79 L466.60,44.40 L467.01,43.92 L467.40,43.46 L467.79,43.04 L468.16,42.65 L468.52,42.31 L468.87,42.02 L469.20,41.80 L469.63,41.60 L470.01,41.51 L470.39,41.52 L470.77,41.62 L471.20,41.80 L471.54,41.98 L471.91,42.20 L472.30,42.47 L472.69,42.78 L473.08,43.13 L473.45,43.50 L473.80,43.90 L474.26,44.50 L474.70,45.16 L475.12,45.87 L475.52,46.65 L475.90,47.50 L476.34,48.69 L476.74,50.00 L477.12,51.36 L477.50,52.70 L477.88,54.02 L478.25,55.36 L478.62,56.67 L479.00,57.90 L479.38,59.03 L479.76,60.10 L480.16,61.12 L480.60,62.10 L480.99,62.90 L481.41,63.69 L481.84,64.45 L482.28,65.14 L482.70,65.70 L483.11,66.12 L483.52,66.43 L483.92,66.66 L484.31,66.84 L484.70,67.00 L485.10,67.13 L485.52,67.21 L485.92,67.25 L486.26,67.28 L486.50,67.30 L486.50,67.30 Z" fill="rgb(176,234,168)" style="mix-blend-mode:multiply" stroke="none"/>
<path d="M447.17,66.91 L447.55,66.81 L447.90,66.70 L448.31,66.53 L448.69,66.33 L449.06,66.11 L449.40,65.88 L449.74,65.62 L450.08,65.34 L450.42,65.05 L450.76,64.75 L451.12,64.43 L451.50,64.10 L451.86,63.79 L452.23,63.46 L452.60,63.12 L452.99,62.77 L453.37,62.40 L453.76,62.02 L454.15,61.64 L454.55,61.24 L454.93,60.83 L455.32,60.42 L455.70,60.00 L456.08,59.57 L456.46,59.14 L456.84,58.69 L457.22,58.23 L457.60,57.77 L457.98,57.29 L458.35,56.81 L458.72,56.32 L459.09,55.82 L459.45,55.31 L459.80,54.80 L460.18,54.21 L460.56,53.59 L460.93,52.95 L461.30,52.30 L461.66,51.64 L462.01,50.98 L462.37,50.34 L462.71,49.73 L463.06,49.14 L463.40,48.60 L463.78,48.04 L464.15,47.50 L464.52,46.99 L464.88,46.51 L465.24,46.05 L465.59,45.61 L465.94,45.19 L466.27,44.79 L466.60,44.40 L467.01,43.92 L467.40,43.46 L467.79,43.04 L468.16,42.65 L468.52,42.31 L468.87,42.02 L469.20,41.80 L469.63,41.60 L470.01,41.51 L470.39,41.52 L470.77,41.62 L471.20,41.80 L471.54,41.98 L471.91,42.20 L472.30,42.47 L472.69,42.78 L473.08,43.13 L473.45,43.50 L473.80,43.90 L474.26,44.50 L474.70,45.16 L475.12,45.87 L475.52,46.65 L475.90,47.50 L476.34,48.69 L476.74,50.00 L477.12,51.36 L477.50,52.70 L477.88,54.02 L478.25,55.36 L478.62,56.67 L479.00,57.90 L479.38,59.03 L479.76,60.10 L480.16,61.12 L480.60,62.10 L480.99,62.90 L481.41,63.69 L481.84,64.45 L482.28,65.14 L482.70,65.70 L483.11,66.12 L483.52,66.43 L483.92,66.66 L484.31,66.84" fill="none" stroke="#6cc060" stroke-width="0.75" stroke-linejoin="round"/>
<path d="M442.00,89.20 L442.00,89.20 L442.22,89.20 L442.50,89.20 L442.83,89.20 L443.20,89.20 L443.60,89.20 L444.02,89.20 L444.45,89.18 L444.88,89.11 L445.30,89.00 L445.65,88.88 L446.01,88.75 L446.39,88.60 L446.77,88.43 L447.17,88.24 L447.56,88.04 L447.95,87.82 L448.33,87.59 L448.70,87.34 L449.06,87.08 L449.40,86.80 L449.84,86.39 L450.26,85.93 L450.66,85.45 L451.04,84.94 L451.42,84.40 L451.78,83.85 L452.14,83.28 L452.50,82.70 L452.90,82.01 L453.29,81.29 L453.68,80.55 L454.05,79.79 L454.41,79.02 L454.76,78.25 L455.10,77.50 L455.55,76.42 L455.98,75.31 L456.38,74.21 L456.79,73.19 L457.20,72.30 L457.54,71.66 L457.88,71.09 L458.22,70.58 L458.56,70.13 L458.92,69.74 L459.30,69.40 L459.65,69.18 L460.03,69.02 L460.42,68.92 L460.81,68.85 L461.19,68.78 L461.56,68.71 L461.90,68.60 L462.33,68.37 L462.73,68.08 L463.11,67.81 L463.46,67.62 L463.80,67.60 L464.27,68.02 L464.68,68.76 L465.20,69.40 L465.55,69.63 L465.94,69.84 L466.36,70.04 L466.79,70.20 L467.21,70.32 L467.60,70.40 L468.03,70.41 L468.44,70.35 L468.84,70.24 L469.25,70.12 L469.70,70.00 L470.05,69.91 L470.43,69.80 L470.82,69.68 L471.22,69.57 L471.60,69.48 L471.97,69.41 L472.30,69.40 L472.72,69.42 L473.10,69.46 L473.45,69.57 L473.78,69.80 L474.10,70.20 L474.56,71.33 L474.97,72.84 L475.40,74.40 L475.75,75.52 L476.10,76.67 L476.48,77.83 L476.90,79.00 L477.22,79.79 L477.56,80.60 L477.91,81.41 L478.28,82.21 L478.64,82.98 L479.00,83.70 L479.34,84.38 L479.68,85.05 L480.02,85.68 L480.36,86.27 L480.72,86.82 L481.10,87.30 L481.45,87.67 L481.83,88.00 L482.22,88.29 L482.62,88.54 L483.00,88.76 L483.37,88.95 L483.70,89.10 L484.14,89.20 L484.56,89.20 L484.95,89.20 L485.27,89.20 L485.50,89.20 L485.50,89.20 Z" fill="rgb(249,160,160)" style="mix-blend-mode:multiply" stroke="none"/>
<path d="M446.01,88.75 L446.39,88.60 L446.77,88.43 L447.17,88.24 L447.56,88.04 L447.95,87.82 L448.33,87.59 L448.70,87.34 L449.06,87.08 L449.40,86.80 L449.84,86.39 L450.26,85.93 L450.66,85.45 L451.04,84.94 L451.42,84.40 L451.78,83.85 L452.14,83.28 L452.50,82.70 L452.90,82.01 L453.29,81.29 L453.68,80.55 L454.05,79.79 L454.41,79.02 L454.76,78.25 L455.10,77.50 L455.55,76.42 L455.98,75.31 L456.38,74.21 L456.79,73.19 L457.20,72.30 L457.54,71.66 L457.88,71.09 L458.22,70.58 L458.56,70.13 L458.92,69.74 L459.30,69.40 L459.65,69.18 L460.03,69.02 L460.42,68.92 L460.81,68.85 L461.19,68.78 L461.56,68.71 L461.90,68.60 L462.33,68.37 L462.73,68.08 L463.11,67.81 L463.46,67.62 L463.80,67.60 L464.27,68.02 L464.68,68.76 L465.20,69.40 L465.55,69.63 L465.94,69.84 L466.36,70.04 L466.79,70.20 L467.21,70.32 L467.60,70.40 L468.03,70.41 L468.44,70.35 L468.84,70.24 L469.25,70.12 L469.70,70.00 L470.05,69.91 L470.43,69.80 L470.82,69.68 L471.22,69.57 L471.60,69.48 L471.97,69.41 L472.30,69.40 L472.72,69.42 L473.10,69.46 L473.45,69.57 L473.78,69.80 L474.10,70.20 L474.56,71.33 L474.97,72.84 L475.40,74.40 L475.75,75.52 L476.10,76.67 L476.48,77.83 L476.90,79.00 L477.22,79.79 L477.56,80.60 L477.91,81.41 L478.28,82.21 L478.64,82.98 L479.00,83.70 L479.34,84.38 L479.68,85.05 L480.02,85.68 L480.36,86.27 L480.72,86.82 L481.10,87.30 L481.45,87.67 L481.83,88.00 L482.22,88.29 L482.62,88.54 L483.00,88.76" fill="none" stroke="#c85a5a" stroke-width="0.75" stroke-linejoin="round"/>
<path d="M444.00,111.80 L444.00,111.80 L444.22,111.78 L444.51,111.76 L444.85,111.75 L445.23,111.73 L445.64,111.71 L446.07,111.68 L446.51,111.65 L446.95,111.60 L447.38,111.55 L447.79,111.48 L448.17,111.40 L448.50,111.30 L448.93,111.12 L449.30,110.90 L449.64,110.66 L449.96,110.39 L450.28,110.11 L450.61,109.81 L450.98,109.51 L451.40,109.20 L451.71,108.99 L452.02,108.78 L452.35,108.57 L452.68,108.35 L453.03,108.12 L453.38,107.89 L453.75,107.71 L454.12,107.64 L454.50,107.38 L454.89,106.56 L455.29,106.40 L455.70,106.63 L456.02,106.36 L456.35,106.07 L456.69,105.91 L457.04,105.38 L457.40,104.88 L457.76,105.09 L458.13,105.19 L458.50,104.67 L458.87,104.33 L459.24,104.05 L459.60,103.54 L459.96,103.55 L460.31,103.83 L460.65,103.47 L460.98,102.86 L461.30,102.65 L461.71,102.42 L462.11,102.11 L462.50,102.34 L462.88,102.17 L463.25,101.39 L463.62,101.10 L463.97,101.11 L464.32,100.88 L464.65,100.84 L464.98,100.93 L465.29,100.54 L465.60,99.89 L466.02,99.72 L466.39,99.85 L466.73,99.62 L467.06,99.50 L467.38,99.46 L467.72,98.98 L468.08,98.46 L468.50,98.81 L468.83,99.00 L469.18,98.78 L469.55,98.74 L469.93,98.60 L470.32,98.17 L470.71,98.46 L471.11,98.93 L471.51,98.62 L471.91,98.47 L472.31,98.42 L472.70,98.17 L473.05,98.50 L473.41,98.91 L473.77,98.59 L474.13,98.22 L474.48,98.31 L474.84,98.26 L475.20,98.28 L475.56,98.73 L475.92,98.74 L476.28,98.21 L476.64,98.17 L477.00,98.48 L477.36,98.53 L477.72,98.76 L478.08,99.07 L478.44,98.76 L478.80,98.46 L479.16,98.89 L479.52,99.26 L479.87,99.30 L480.23,99.55 L480.59,99.59 L480.95,99.22 L481.30,99.38 L481.69,100.06 L482.07,100.18 L482.45,100.17 L482.83,100.34 L483.21,100.13 L483.59,100.27 L483.97,101.01 L484.35,101.19 L484.73,101.00 L485.11,101.18 L485.50,101.20 L485.85,101.30 L486.21,101.96 L486.57,102.31 L486.93,102.01 L487.28,102.01 L487.64,102.33 L488.00,102.44 L488.36,102.81 L488.72,103.38 L489.08,103.27 L489.44,102.97 L489.80,103.31 L490.16,103.71 L490.53,103.87 L490.91,104.32 L491.29,104.45 L491.67,104.07 L492.04,104.31 L492.41,104.93 L492.78,105.10 L493.13,105.28 L493.47,105.55 L493.79,105.41 L494.10,105.26 L494.57,106.05 L494.97,106.59 L495.33,106.63 L495.67,106.91 L496.03,107.09 L496.43,107.08 L496.90,107.95 L497.21,108.01 L497.53,108.25 L497.87,108.49 L498.22,108.75 L498.59,109.01 L498.96,109.27 L499.33,109.53 L499.71,109.77 L500.09,110.01 L500.47,110.23 L500.84,110.43 L501.20,110.60 L501.56,110.75 L501.94,110.88 L502.32,111.00 L502.70,111.10 L503.08,111.18 L503.46,111.26 L503.84,111.33 L504.20,111.39 L504.55,111.45 L504.89,111.50 L505.20,111.55 L505.50,111.60 L505.97,111.67 L506.42,111.72 L506.83,111.75 L507.20,111.77 L507.52,111.78 L507.79,111.79 L508.00,111.80 L508.00,111.80 Z" fill="rgb(140,150,244)" style="mix-blend-mode:multiply" stroke="none"/>
<path d="M448.17,111.40 L448.50,111.30 L448.93,111.12 L449.30,110.90 L449.64,110.66 L449.96,110.39 L450.28,110.11 L450.61,109.81 L450.98,109.51 L451.40,109.20 L451.71,108.99 L452.02,108.78 L452.35,108.57 L452.68,108.35 L453.03,108.12 L453.38,107.89 L453.75,107.71 L454.12,107.64 L454.50,107.38 L454.89,106.56 L455.29,106.40 L455.70,106.63 L456.02,106.36 L456.35,106.07 L456.69,105.91 L457.04,105.38 L457.40,104.88 L457.76,105.09 L458.13,105.19 L458.50,104.67 L458.87,104.33 L459.24,104.05 L459.60,103.54 L459.96,103.55 L460.31,103.83 L460.65,103.47 L460.98,102.86 L461.30,102.65 L461.71,102.42 L462.11,102.11 L462.50,102.34 L462.88,102.17 L463.25,101.39 L463.62,101.10 L463.97,101.11 L464.32,100.88 L464.65,100.84 L464.98,100.93 L465.29,100.54 L465.60,99.89 L466.02,99.72 L466.39,99.85 L466.73,99.62 L467.06,99.50 L467.38,99.46 L467.72,98.98 L468.08,98.46 L468.50,98.81 L468.83,99.00 L469.18,98.78 L469.55,98.74 L469.93,98.60 L470.32,98.17 L470.71,98.46 L471.11,98.93 L471.51,98.62 L471.91,98.47 L472.31,98.42 L472.70,98.17 L473.05,98.50 L473.41,98.91 L473.77,98.59 L474.13,98.22 L474.48,98.31 L474.84,98.26 L475.20,98.28 L475.56,98.73 L475.92,98.74 L476.28,98.21 L476.64,98.17 L477.00,98.48 L477.36,98.53 L477.72,98.76 L478.08,99.07 L478.44,98.76 L478.80,98.46 L479.16,98.89 L479.52,99.26 L479.87,99.30 L480.23,99.55 L480.59,99.59 L480.95,99.22 L481.30,99.38 L481.69,100.06 L482.07,100.18 L482.45,100.17 L482.83,100.34 L483.21,100.13 L483.59,100.27 L483.97,101.01 L484.35,101.19 L484.73,101.00 L485.11,101.18 L485.50,101.20 L485.85,101.30 L486.21,101.96 L486.57,102.31 L486.93,102.01 L487.28,102.01 L487.64,102.33 L488.00,102.44 L488.36,102.81 L488.72,103.38 L489.08,103.27 L489.44,102.97 L489.80,103.31 L490.16,103.71 L490.53,103.87 L490.91,104.32 L491.29,104.45 L491.67,104.07 L492.04,104.31 L492.41,104.93 L492.78,105.10 L493.13,105.28 L493.47,105.55 L493.79,105.41 L494.10,105.26 L494.57,106.05 L494.97,106.59 L495.33,106.63 L495.67,106.91 L496.03,107.09 L496.43,107.08 L496.90,107.95 L497.21,108.01 L497.53,108.25 L497.87,108.49 L498.22,108.75 L498.59,109.01 L498.96,109.27 L499.33,109.53 L499.71,109.77 L500.09,110.01 L500.47,110.23 L500.84,110.43 L501.20,110.60 L501.56,110.75 L501.94,110.88 L502.32,111.00 L502.70,111.10 L503.08,111.18 L503.46,111.26 L503.84,111.33 L504.20,111.39 L504.55,111.45" fill="none" stroke="#2e2ea6" stroke-width="0.75" stroke-linejoin="round"/>
<path d="M423.00,134.20 L423.00,134.20 L423.22,134.13 L423.50,134.04 L423.83,133.94 L424.21,133.82 L424.62,133.68 L425.06,133.51 L425.52,133.32 L426.00,133.10 L426.31,132.95 L426.64,132.79 L427.00,132.63 L427.36,132.45 L427.74,132.27 L428.13,132.08 L428.52,131.87 L428.91,131.66 L429.29,131.43 L429.67,131.19 L430.03,130.94 L430.38,130.68 L430.70,130.40 L431.14,129.98 L431.56,129.53 L431.96,129.06 L432.34,128.56 L432.71,128.04 L433.07,127.50 L433.42,126.92 L433.76,126.33 L434.10,125.70 L434.53,124.85 L434.94,123.95 L435.34,123.00 L435.73,122.02 L436.10,121.00 L436.46,119.96 L436.80,118.90 L437.24,117.38 L437.65,115.82 L438.03,114.20 L438.40,112.52 L438.80,110.80 L439.22,108.95 L439.64,106.98 L440.06,104.98 L440.48,103.09 L440.90,101.40 L441.32,99.90 L441.74,98.51 L442.16,97.26 L442.55,96.19 L442.90,95.30 L443.38,94.26 L443.79,93.70 L444.20,93.60 L444.55,93.81 L444.90,94.27 L445.25,95.00 L445.60,96.00 L446.04,97.86 L446.46,100.20 L446.90,102.70 L447.24,104.63 L447.58,106.66 L447.93,108.74 L448.30,110.80 L448.68,112.82 L449.08,114.85 L449.49,116.88 L449.90,118.90 L450.31,120.99 L450.72,123.12 L451.14,125.16 L451.60,127.00 L452.00,128.32 L452.42,129.55 L452.85,130.66 L453.28,131.63 L453.70,132.40 L454.12,132.94 L454.54,133.25 L454.96,133.43 L455.35,133.56 L455.70,133.70 L456.23,133.94 L456.69,134.10 L457.00,134.20 L457.00,134.20 Z" fill="rgb(176,176,176)" style="mix-blend-mode:multiply" stroke="none"/>
<path d="M424.21,133.82 L424.62,133.68 L425.06,133.51 L425.52,133.32 L426.00,133.10 L426.31,132.95 L426.64,132.79 L427.00,132.63 L427.36,132.45 L427.74,132.27 L428.13,132.08 L428.52,131.87 L428.91,131.66 L429.29,131.43 L429.67,131.19 L430.03,130.94 L430.38,130.68 L430.70,130.40 L431.14,129.98 L431.56,129.53 L431.96,129.06 L432.34,128.56 L432.71,128.04 L433.07,127.50 L433.42,126.92 L433.76,126.33 L434.10,125.70 L434.53,124.85 L434.94,123.95 L435.34,123.00 L435.73,122.02 L436.10,121.00 L436.46,119.96 L436.80,118.90 L437.24,117.38 L437.65,115.82 L438.03,114.20 L438.40,112.52 L438.80,110.80 L439.22,108.95 L439.64,106.98 L440.06,104.98 L440.48,103.09 L440.90,101.40 L441.32,99.90 L441.74,98.51 L442.16,97.26 L442.55,96.19 L442.90,95.30 L443.38,94.26 L443.79,93.70 L444.20,93.60 L444.55,93.81 L444.90,94.27 L445.25,95.00 L445.60,96.00 L446.04,97.86 L446.46,100.20 L446.90,102.70 L447.24,104.63 L447.58,106.66 L447.93,108.74 L448.30,110.80 L448.68,112.82 L449.08,114.85 L449.49,116.88 L449.90,118.90 L450.31,120.99 L450.72,123.12 L451.14,125.16 L451.60,127.00 L452.00,128.32 L452.42,129.55 L452.85,130.66 L453.28,131.63 L453.70,132.40 L454.12,132.94 L454.54,133.25 L454.96,133.43 L455.35,133.56 L455.70,133.70" fill="none" stroke="#383838" stroke-width="0.75" stroke-linejoin="round"/>
<path d="M413.6,134.2 L413.8,126.5 L414.6,128.5 L415.4,134.2 Z" fill="#999" stroke="#333" stroke-width="0.5"/>
<text x="267.0" y="64.8" font-size="6.9" font-weight="bold" text-anchor="start" fill="#8ad67a" stroke="#8ad67a" stroke-width="0.26" >Mer</text>
<text x="266.0" y="86.8" font-size="6.9" font-weight="bold" text-anchor="start" fill="#cc5040" stroke="#cc5040" stroke-width="0.26" >Axl</text>
<text x="266.0" y="108.9" font-size="6.9" font-weight="bold" text-anchor="start" fill="#2c34b0" stroke="#2c34b0" stroke-width="0.26" >Tyro3</text>
<text x="264.6" y="130.9" font-size="6.9" font-weight="bold" text-anchor="start" fill="#111" stroke="#111" stroke-width="0.26" >Isotype</text>
<text x="374.0" y="64.7" font-size="6.9" font-weight="bold" text-anchor="start" fill="#8ad67a" stroke="#8ad67a" stroke-width="0.26" >Mer</text>
<text x="375.0" y="86.7" font-size="6.9" font-weight="bold" text-anchor="start" fill="#cc5040" stroke="#cc5040" stroke-width="0.26" >Axl</text>
<text x="375.3" y="109.2" font-size="6.9" font-weight="bold" text-anchor="start" fill="#2c34b0" stroke="#2c34b0" stroke-width="0.26" >Tyro3</text>
<text x="376.0" y="131.3" font-size="6.9" font-weight="bold" text-anchor="start" fill="#111" stroke="#111" stroke-width="0.26" >Isotype</text>
<text x="487.2" y="64.8" font-size="6.9" font-weight="bold" text-anchor="start" fill="#8ad67a" stroke="#8ad67a" stroke-width="0.26" >Mer</text>
<text x="488.7" y="86.5" font-size="6.9" font-weight="bold" text-anchor="start" fill="#cc5040" stroke="#cc5040" stroke-width="0.26" >Axl</text>
<text x="497.2" y="108.6" font-size="6.9" font-weight="bold" text-anchor="start" fill="#2c34b0" stroke="#2c34b0" stroke-width="0.26" >Tyro3</text>
<text x="487.9" y="131.2" font-size="6.9" font-weight="bold" text-anchor="start" fill="#111" stroke="#111" stroke-width="0.26" >Isotype</text>
<line x1="193.2" y1="135.3" x2="299.3" y2="135.3" stroke="#111" stroke-width="1.25" />
<line x1="204.4" y1="135.3" x2="204.4" y2="137.3" stroke="#111" stroke-width="0.9" />
<text x="204.0" y="145.2" font-size="4.2" fill="#222" stroke="#222" stroke-width="0.22" font-family="Liberation Serif, serif">10<tspan font-size="3.0" dy="-1.8">1</tspan></text>
<line x1="225.9" y1="135.3" x2="225.9" y2="137.3" stroke="#111" stroke-width="0.9" />
<text x="225.5" y="145.2" font-size="4.2" fill="#222" stroke="#222" stroke-width="0.22" font-family="Liberation Serif, serif">10<tspan font-size="3.0" dy="-1.8">2</tspan></text>
<line x1="247.4" y1="135.3" x2="247.4" y2="137.3" stroke="#111" stroke-width="0.9" />
<text x="247.0" y="145.2" font-size="4.2" fill="#222" stroke="#222" stroke-width="0.22" font-family="Liberation Serif, serif">10<tspan font-size="3.0" dy="-1.8">3</tspan></text>
<line x1="268.9" y1="135.3" x2="268.9" y2="137.3" stroke="#111" stroke-width="0.9" />
<text x="268.5" y="145.2" font-size="4.2" fill="#222" stroke="#222" stroke-width="0.22" font-family="Liberation Serif, serif">10<tspan font-size="3.0" dy="-1.8">4</tspan></text>
<line x1="290.4" y1="135.3" x2="290.4" y2="137.3" stroke="#111" stroke-width="0.9" />
<text x="290.0" y="145.2" font-size="4.2" fill="#222" stroke="#222" stroke-width="0.22" font-family="Liberation Serif, serif">10<tspan font-size="3.0" dy="-1.8">5</tspan></text>
<line x1="195.84" y1="135.3" x2="195.84" y2="136.5" stroke="#333" stroke-width="0.6" />
<line x1="197.93" y1="135.3" x2="197.93" y2="136.5" stroke="#333" stroke-width="0.6" />
<line x1="199.63" y1="135.3" x2="199.63" y2="136.5" stroke="#333" stroke-width="0.6" />
<line x1="201.07" y1="135.3" x2="201.07" y2="136.5" stroke="#333" stroke-width="0.6" />
<line x1="202.32" y1="135.3" x2="202.32" y2="136.5" stroke="#333" stroke-width="0.6" />
<line x1="203.42" y1="135.3" x2="203.42" y2="136.5" stroke="#333" stroke-width="0.6" />
<line x1="210.87" y1="135.3" x2="210.87" y2="136.5" stroke="#333" stroke-width="0.6" />
<line x1="214.66" y1="135.3" x2="214.66" y2="136.5" stroke="#333" stroke-width="0.6" />
<line x1="217.34" y1="135.3" x2="217.34" y2="136.5" stroke="#333" stroke-width="0.6" />
<line x1="219.43" y1="135.3" x2="219.43" y2="136.5" stroke="#333" stroke-width="0.6" />
<line x1="221.13" y1="135.3" x2="221.13" y2="136.5" stroke="#333" stroke-width="0.6" />
<line x1="222.57" y1="135.3" x2="222.57" y2="136.5" stroke="#333" stroke-width="0.6" />
<line x1="223.82" y1="135.3" x2="223.82" y2="136.5" stroke="#333" stroke-width="0.6" />
<line x1="224.92" y1="135.3" x2="224.92" y2="136.5" stroke="#333" stroke-width="0.6" />
<line x1="232.37" y1="135.3" x2="232.37" y2="136.5" stroke="#333" stroke-width="0.6" />
<line x1="236.16" y1="135.3" x2="236.16" y2="136.5" stroke="#333" stroke-width="0.6" />
<line x1="238.84" y1="135.3" x2="238.84" y2="136.5" stroke="#333" stroke-width="0.6" />
<line x1="240.93" y1="135.3" x2="240.93" y2="136.5" stroke="#333" stroke-width="0.6" />
<line x1="242.63" y1="135.3" x2="242.63" y2="136.5" stroke="#333" stroke-width="0.6" />
<line x1="244.07" y1="135.3" x2="244.07" y2="136.5" stroke="#333" stroke-width="0.6" />
<line x1="245.32" y1="135.3" x2="245.32" y2="136.5" stroke="#333" stroke-width="0.6" />
<line x1="246.42" y1="135.3" x2="246.42" y2="136.5" stroke="#333" stroke-width="0.6" />
<line x1="253.87" y1="135.3" x2="253.87" y2="136.5" stroke="#333" stroke-width="0.6" />
<line x1="257.66" y1="135.3" x2="257.66" y2="136.5" stroke="#333" stroke-width="0.6" />
<line x1="260.34" y1="135.3" x2="260.34" y2="136.5" stroke="#333" stroke-width="0.6" />
<line x1="262.43" y1="135.3" x2="262.43" y2="136.5" stroke="#333" stroke-width="0.6" />
<line x1="264.13" y1="135.3" x2="264.13" y2="136.5" stroke="#333" stroke-width="0.6" />
<line x1="265.57" y1="135.3" x2="265.57" y2="136.5" stroke="#333" stroke-width="0.6" />
<line x1="266.82" y1="135.3" x2="266.82" y2="136.5" stroke="#333" stroke-width="0.6" />
<line x1="267.92" y1="135.3" x2="267.92" y2="136.5" stroke="#333" stroke-width="0.6" />
<line x1="275.37" y1="135.3" x2="275.37" y2="136.5" stroke="#333" stroke-width="0.6" />
<line x1="279.16" y1="135.3" x2="279.16" y2="136.5" stroke="#333" stroke-width="0.6" />
<line x1="281.84" y1="135.3" x2="281.84" y2="136.5" stroke="#333" stroke-width="0.6" />
<line x1="283.93" y1="135.3" x2="283.93" y2="136.5" stroke="#333" stroke-width="0.6" />
<line x1="285.63" y1="135.3" x2="285.63" y2="136.5" stroke="#333" stroke-width="0.6" />
<line x1="287.07" y1="135.3" x2="287.07" y2="136.5" stroke="#333" stroke-width="0.6" />
<line x1="288.32" y1="135.3" x2="288.32" y2="136.5" stroke="#333" stroke-width="0.6" />
<line x1="289.42" y1="135.3" x2="289.42" y2="136.5" stroke="#333" stroke-width="0.6" />
<line x1="296.87" y1="135.3" x2="296.87" y2="136.5" stroke="#333" stroke-width="0.6" />
<line x1="303.2" y1="135.3" x2="409.5" y2="135.3" stroke="#111" stroke-width="1.25" />
<line x1="314.5" y1="135.3" x2="314.5" y2="137.3" stroke="#111" stroke-width="0.9" />
<text x="314.1" y="145.2" font-size="4.2" fill="#222" stroke="#222" stroke-width="0.22" font-family="Liberation Serif, serif">10<tspan font-size="3.0" dy="-1.8">1</tspan></text>
<line x1="336.1" y1="135.3" x2="336.1" y2="137.3" stroke="#111" stroke-width="0.9" />
<text x="335.70000000000005" y="145.2" font-size="4.2" fill="#222" stroke="#222" stroke-width="0.22" font-family="Liberation Serif, serif">10<tspan font-size="3.0" dy="-1.8">2</tspan></text>
<line x1="357.7" y1="135.3" x2="357.7" y2="137.3" stroke="#111" stroke-width="0.9" />
<text x="357.3" y="145.2" font-size="4.2" fill="#222" stroke="#222" stroke-width="0.22" font-family="Liberation Serif, serif">10<tspan font-size="3.0" dy="-1.8">3</tspan></text>
<line x1="379.3" y1="135.3" x2="379.3" y2="137.3" stroke="#111" stroke-width="0.9" />
<text x="378.90000000000003" y="145.2" font-size="4.2" fill="#222" stroke="#222" stroke-width="0.22" font-family="Liberation Serif, serif">10<tspan font-size="3.0" dy="-1.8">4</tspan></text>
<line x1="400.9" y1="135.3" x2="400.9" y2="137.3" stroke="#111" stroke-width="0.9" />
<text x="400.5" y="145.2" font-size="4.2" fill="#222" stroke="#222" stroke-width="0.22" font-family="Liberation Serif, serif">10<tspan font-size="3.0" dy="-1.8">5</tspan></text>
<line x1="303.21" y1="135.3" x2="303.21" y2="136.5" stroke="#333" stroke-width="0.6" />
<line x1="305.9" y1="135.3" x2="305.9" y2="136.5" stroke="#333" stroke-width="0.6" />
<line x1="308.0" y1="135.3" x2="308.0" y2="136.5" stroke="#333" stroke-width="0.6" />
<line x1="309.71" y1="135.3" x2="309.71" y2="136.5" stroke="#333" stroke-width="0.6" />
<line x1="311.15" y1="135.3" x2="311.15" y2="136.5" stroke="#333" stroke-width="0.6" />
<line x1="312.41" y1="135.3" x2="312.41" y2="136.5" stroke="#333" stroke-width="0.6" />
<line x1="313.51" y1="135.3" x2="313.51" y2="136.5" stroke="#333" stroke-width="0.6" />
<line x1="321.0" y1="135.3" x2="321.0" y2="136.5" stroke="#333" stroke-width="0.6" />
<line x1="324.81" y1="135.3" x2="324.81" y2="136.5" stroke="#333" stroke-width="0.6" />
<line x1="327.5" y1="135.3" x2="327.5" y2="136.5" stroke="#333" stroke-width="0.6" />
<line x1="329.6" y1="135.3" x2="329.6" y2="136.5" stroke="#333" stroke-width="0.6" />
<line x1="331.31" y1="135.3" x2="331.31" y2="136.5" stroke="#333" stroke-width="0.6" />
<line x1="332.75" y1="135.3" x2="332.75" y2="136.5" stroke="#333" stroke-width="0.6" />
<line x1="334.01" y1="135.3" x2="334.01" y2="136.5" stroke="#333" stroke-width="0.6" />
<line x1="335.11" y1="135.3" x2="335.11" y2="136.5" stroke="#333" stroke-width="0.6" />
<line x1="342.6" y1="135.3" x2="342.6" y2="136.5" stroke="#333" stroke-width="0.6" />
<line x1="346.41" y1="135.3" x2="346.41" y2="136.5" stroke="#333" stroke-width="0.6" />
<line x1="349.1" y1="135.3" x2="349.1" y2="136.5" stroke="#333" stroke-width="0.6" />
<line x1="351.2" y1="135.3" x2="351.2" y2="136.5" stroke="#333" stroke-width="0.6" />
<line x1="352.91" y1="135.3" x2="352.91" y2="136.5" stroke="#333" stroke-width="0.6" />
<line x1="354.35" y1="135.3" x2="354.35" y2="136.5" stroke="#333" stroke-width="0.6" />
<line x1="355.61" y1="135.3" x2="355.61" y2="136.5" stroke="#333" stroke-width="0.6" />
<line x1="356.71" y1="135.3" x2="356.71" y2="136.5" stroke="#333" stroke-width="0.6" />
<line x1="364.2" y1="135.3" x2="364.2" y2="136.5" stroke="#333" stroke-width="0.6" />
<line x1="368.01" y1="135.3" x2="368.01" y2="136.5" stroke="#333" stroke-width="0.6" />
<line x1="370.7" y1="135.3" x2="370.7" y2="136.5" stroke="#333" stroke-width="0.6" />
<line x1="372.8" y1="135.3" x2="372.8" y2="136.5" stroke="#333" stroke-width="0.6" />
<line x1="374.51" y1="135.3" x2="374.51" y2="136.5" stroke="#333" stroke-width="0.6" />
<line x1="375.95" y1="135.3" x2="375.95" y2="136.5" stroke="#333" stroke-width="0.6" />
<line x1="377.21" y1="135.3" x2="377.21" y2="136.5" stroke="#333" stroke-width="0.6" />
<line x1="378.31" y1="135.3" x2="378.31" y2="136.5" stroke="#333" stroke-width="0.6" />
<line x1="385.8" y1="135.3" x2="385.8" y2="136.5" stroke="#333" stroke-width="0.6" />
<line x1="389.61" y1="135.3" x2="389.61" y2="136.5" stroke="#333" stroke-width="0.6" />
<line x1="392.3" y1="135.3" x2="392.3" y2="136.5" stroke="#333" stroke-width="0.6" />
<line x1="394.4" y1="135.3" x2="394.4" y2="136.5" stroke="#333" stroke-width="0.6" />
<line x1="396.11" y1="135.3" x2="396.11" y2="136.5" stroke="#333" stroke-width="0.6" />
<line x1="397.55" y1="135.3" x2="397.55" y2="136.5" stroke="#333" stroke-width="0.6" />
<line x1="398.81" y1="135.3" x2="398.81" y2="136.5" stroke="#333" stroke-width="0.6" />
<line x1="399.91" y1="135.3" x2="399.91" y2="136.5" stroke="#333" stroke-width="0.6" />
<line x1="407.4" y1="135.3" x2="407.4" y2="136.5" stroke="#333" stroke-width="0.6" />
<line x1="413.3" y1="134.2" x2="519.5" y2="134.2" stroke="#111" stroke-width="1.25" />
<line x1="424.0" y1="134.2" x2="424.0" y2="136.2" stroke="#111" stroke-width="0.9" />
<text x="423.6" y="143.0" font-size="4.2" fill="#222" stroke="#222" stroke-width="0.22" font-family="Liberation Serif, serif">10<tspan font-size="3.0" dy="-1.8">1</tspan></text>
<line x1="446.0" y1="134.2" x2="446.0" y2="136.2" stroke="#111" stroke-width="0.9" />
<text x="445.6" y="143.0" font-size="4.2" fill="#222" stroke="#222" stroke-width="0.22" font-family="Liberation Serif, serif">10<tspan font-size="3.0" dy="-1.8">2</tspan></text>
<line x1="468.0" y1="134.2" x2="468.0" y2="136.2" stroke="#111" stroke-width="0.9" />
<text x="467.6" y="143.0" font-size="4.2" fill="#222" stroke="#222" stroke-width="0.22" font-family="Liberation Serif, serif">10<tspan font-size="3.0" dy="-1.8">3</tspan></text>
<line x1="489.8" y1="134.2" x2="489.8" y2="136.2" stroke="#111" stroke-width="0.9" />
<text x="489.40000000000003" y="143.0" font-size="4.2" fill="#222" stroke="#222" stroke-width="0.22" font-family="Liberation Serif, serif">10<tspan font-size="3.0" dy="-1.8">4</tspan></text>
<line x1="511.5" y1="134.2" x2="511.5" y2="136.2" stroke="#111" stroke-width="0.9" />
<text x="511.1" y="143.0" font-size="4.2" fill="#222" stroke="#222" stroke-width="0.22" font-family="Liberation Serif, serif">10<tspan font-size="3.0" dy="-1.8">5</tspan></text>
<line x1="415.25" y1="134.2" x2="415.25" y2="135.39999999999998" stroke="#333" stroke-width="0.6" />
<line x1="417.38" y1="134.2" x2="417.38" y2="135.39999999999998" stroke="#333" stroke-width="0.6" />
<line x1="419.12" y1="134.2" x2="419.12" y2="135.39999999999998" stroke="#333" stroke-width="0.6" />
<line x1="420.59" y1="134.2" x2="420.59" y2="135.39999999999998" stroke="#333" stroke-width="0.6" />
<line x1="421.87" y1="134.2" x2="421.87" y2="135.39999999999998" stroke="#333" stroke-width="0.6" />
<line x1="422.99" y1="134.2" x2="422.99" y2="135.39999999999998" stroke="#333" stroke-width="0.6" />
<line x1="430.62" y1="134.2" x2="430.62" y2="135.39999999999998" stroke="#333" stroke-width="0.6" />
<line x1="434.5" y1="134.2" x2="434.5" y2="135.39999999999998" stroke="#333" stroke-width="0.6" />
<line x1="437.25" y1="134.2" x2="437.25" y2="135.39999999999998" stroke="#333" stroke-width="0.6" />
<line x1="439.38" y1="134.2" x2="439.38" y2="135.39999999999998" stroke="#333" stroke-width="0.6" />
<line x1="441.12" y1="134.2" x2="441.12" y2="135.39999999999998" stroke="#333" stroke-width="0.6" />
<line x1="442.59" y1="134.2" x2="442.59" y2="135.39999999999998" stroke="#333" stroke-width="0.6" />
<line x1="443.87" y1="134.2" x2="443.87" y2="135.39999999999998" stroke="#333" stroke-width="0.6" />
<line x1="444.99" y1="134.2" x2="444.99" y2="135.39999999999998" stroke="#333" stroke-width="0.6" />
<line x1="452.62" y1="134.2" x2="452.62" y2="135.39999999999998" stroke="#333" stroke-width="0.6" />
<line x1="456.5" y1="134.2" x2="456.5" y2="135.39999999999998" stroke="#333" stroke-width="0.6" />
<line x1="459.25" y1="134.2" x2="459.25" y2="135.39999999999998" stroke="#333" stroke-width="0.6" />
<line x1="461.38" y1="134.2" x2="461.38" y2="135.39999999999998" stroke="#333" stroke-width="0.6" />
<line x1="463.12" y1="134.2" x2="463.12" y2="135.39999999999998" stroke="#333" stroke-width="0.6" />
<line x1="464.59" y1="134.2" x2="464.59" y2="135.39999999999998" stroke="#333" stroke-width="0.6" />
<line x1="465.87" y1="134.2" x2="465.87" y2="135.39999999999998" stroke="#333" stroke-width="0.6" />
<line x1="466.99" y1="134.2" x2="466.99" y2="135.39999999999998" stroke="#333" stroke-width="0.6" />
<line x1="474.62" y1="134.2" x2="474.62" y2="135.39999999999998" stroke="#333" stroke-width="0.6" />
<line x1="478.5" y1="134.2" x2="478.5" y2="135.39999999999998" stroke="#333" stroke-width="0.6" />
<line x1="481.25" y1="134.2" x2="481.25" y2="135.39999999999998" stroke="#333" stroke-width="0.6" />
<line x1="483.38" y1="134.2" x2="483.38" y2="135.39999999999998" stroke="#333" stroke-width="0.6" />
<line x1="485.12" y1="134.2" x2="485.12" y2="135.39999999999998" stroke="#333" stroke-width="0.6" />
<line x1="486.59" y1="134.2" x2="486.59" y2="135.39999999999998" stroke="#333" stroke-width="0.6" />
<line x1="487.87" y1="134.2" x2="487.87" y2="135.39999999999998" stroke="#333" stroke-width="0.6" />
<line x1="488.99" y1="134.2" x2="488.99" y2="135.39999999999998" stroke="#333" stroke-width="0.6" />
<line x1="496.62" y1="134.2" x2="496.62" y2="135.39999999999998" stroke="#333" stroke-width="0.6" />
<line x1="500.5" y1="134.2" x2="500.5" y2="135.39999999999998" stroke="#333" stroke-width="0.6" />
<line x1="503.25" y1="134.2" x2="503.25" y2="135.39999999999998" stroke="#333" stroke-width="0.6" />
<line x1="505.38" y1="134.2" x2="505.38" y2="135.39999999999998" stroke="#333" stroke-width="0.6" />
<line x1="507.12" y1="134.2" x2="507.12" y2="135.39999999999998" stroke="#333" stroke-width="0.6" />
<line x1="508.59" y1="134.2" x2="508.59" y2="135.39999999999998" stroke="#333" stroke-width="0.6" />
<line x1="509.87" y1="134.2" x2="509.87" y2="135.39999999999998" stroke="#333" stroke-width="0.6" />
<line x1="510.99" y1="134.2" x2="510.99" y2="135.39999999999998" stroke="#333" stroke-width="0.6" />
<line x1="518.62" y1="134.2" x2="518.62" y2="135.39999999999998" stroke="#333" stroke-width="0.6" />
<text x="299.5" y="155.4" font-size="9.6" font-weight="bold" text-anchor="start" fill="#000" stroke="#000" stroke-width="0.26" >TAM Receptor expression</text>
<line x1="426.7" y1="152.6" x2="453.5" y2="152.6" stroke="#000" stroke-width="1.0" />
<path d="M452.2,150.6 L456.0,152.6 L452.2,154.6 Z" fill="#000"/>
<text x="2.6" y="181.4" font-size="12.6" font-weight="bold" text-anchor="start" fill="#000" stroke="#000" stroke-width="0.5" >C</text>
<text transform="translate(14.4,245.1) rotate(-90)" font-size="8.8" font-weight="bold" text-anchor="middle" fill="#000" stroke="#000" stroke-width="0.15">Relative mRNA expression</text>
<text transform="translate(22.6,246.0) rotate(-90)" font-size="8.9" font-weight="bold" text-anchor="middle" fill="#000" stroke="#000" stroke-width="0.15">(normalized to actin)</text>
<line x1="45.8" y1="191.2" x2="45.8" y2="214.5" stroke="#000" stroke-width="1.1" />
<line x1="45.8" y1="221.6" x2="45.8" y2="303.6" stroke="#000" stroke-width="1.1" />
<line x1="44.2" y1="214.5" x2="47.8" y2="214.5" stroke="#000" stroke-width="1.1" />
<line x1="44.2" y1="221.6" x2="47.8" y2="221.6" stroke="#000" stroke-width="1.1" />
<line x1="43.6" y1="191.0" x2="45.8" y2="191.0" stroke="#000" stroke-width="0.9" />
<text transform="translate(43.6,193.6) scale(0.6,1)" font-size="7.4" font-weight="bold" text-anchor="end" stroke="#000" stroke-width="0.35">6</text>
<line x1="43.6" y1="203.0" x2="45.8" y2="203.0" stroke="#000" stroke-width="0.9" />
<text transform="translate(43.6,205.6) scale(0.6,1)" font-size="7.4" font-weight="bold" text-anchor="end" stroke="#000" stroke-width="0.35">5</text>
<line x1="43.6" y1="213.6" x2="45.8" y2="213.6" stroke="#000" stroke-width="0.9" />
<text transform="translate(43.6,216.2) scale(0.6,1)" font-size="7.4" font-weight="bold" text-anchor="end" stroke="#000" stroke-width="0.35">4</text>
<line x1="43.8" y1="221.8" x2="45.8" y2="221.8" stroke="#000" stroke-width="0.9" />
<text transform="translate(43.4,224.3) scale(0.8,1)" font-size="7.0" font-weight="bold" text-anchor="end" stroke="#000" stroke-width="0.2">0.15</text>
<line x1="43.8" y1="249.1" x2="45.8" y2="249.1" stroke="#000" stroke-width="0.9" />
<text transform="translate(43.4,251.6) scale(0.8,1)" font-size="7.0" font-weight="bold" text-anchor="end" stroke="#000" stroke-width="0.2">0.10</text>
<line x1="43.8" y1="275.9" x2="45.8" y2="275.9" stroke="#000" stroke-width="0.9" />
<text transform="translate(43.4,278.4) scale(0.8,1)" font-size="7.0" font-weight="bold" text-anchor="end" stroke="#000" stroke-width="0.2">0.05</text>
<line x1="43.8" y1="303.4" x2="45.8" y2="303.4" stroke="#000" stroke-width="0.9" />
<text transform="translate(43.4,305.9) scale(0.8,1)" font-size="7.0" font-weight="bold" text-anchor="end" stroke="#000" stroke-width="0.2">0.00</text>
<line x1="65.8" y1="251.4" x2="65.8" y2="263" stroke="#000" stroke-width="0.9" />
<line x1="61.4" y1="251.4" x2="70.8" y2="251.4" stroke="#000" stroke-width="1.2" />
<rect x="56.3" y="263.0" width="19.0" height="40.4" fill="#000" stroke="#000" stroke-width="1.0"/>
<line x1="99.6" y1="204.2" x2="99.6" y2="208.2" stroke="#000" stroke-width="0.9" />
<line x1="94.8" y1="204.2" x2="104.6" y2="204.2" stroke="#000" stroke-width="1.2" />
<rect x="89.2" y="208.0" width="20.6" height="6.0" fill="url(#axlc)" stroke="none" stroke-width="0"/>
<rect x="89.2" y="221.4" width="20.6" height="82.2" fill="url(#axlc)" stroke="none" stroke-width="0"/>
<line x1="89.5" y1="208.0" x2="89.5" y2="214.0" stroke="#333" stroke-width="0.6" />
<line x1="89.5" y1="221.4" x2="89.5" y2="303.6" stroke="#333" stroke-width="0.6" />
<line x1="109.5" y1="208.0" x2="109.5" y2="214.0" stroke="#333" stroke-width="0.6" />
<line x1="109.5" y1="221.4" x2="109.5" y2="303.6" stroke="#333" stroke-width="0.6" />
<line x1="89.2" y1="208.6" x2="109.8" y2="208.6" stroke="#000" stroke-width="1.3" />
<rect x="123.4" y="301.3" width="20.2" height="2.3" fill="#000" stroke="none" stroke-width="0"/>
<line x1="127.8" y1="300.4" x2="139.0" y2="300.4" stroke="#000" stroke-width="1.1" />
<line x1="45.3" y1="303.6" x2="153.5" y2="303.6" stroke="#000" stroke-width="1.6" />
<line x1="65.8" y1="303.6" x2="65.8" y2="305.6" stroke="#000" stroke-width="1.0" />
<line x1="99.5" y1="303.6" x2="99.5" y2="305.6" stroke="#000" stroke-width="1.0" />
<line x1="133.2" y1="303.6" x2="133.2" y2="305.6" stroke="#000" stroke-width="1.0" />
<text x="66.2" y="313.8" font-size="8.0" font-weight="bold" text-anchor="middle" fill="#000" stroke="#000" stroke-width="0.26" >Tyro3</text>
<text x="98.9" y="313.8" font-size="8.0" font-weight="bold" text-anchor="middle" fill="#000" stroke="#000" stroke-width="0.26" >Axl</text>
<text x="133.3" y="313.8" font-size="8.0" font-weight="bold" text-anchor="middle" fill="#000" stroke="#000" stroke-width="0.26" >Mer</text>
<text x="118.8" y="182.3" font-size="9.45" font-weight="bold" text-anchor="start" fill="#000" stroke="#000" stroke-width="0.26" >Tumor cells (EO771)</text>
<path d="M166.0,301.8 L166.0,190.0 L286.9,190.0 L286.9,301.8" fill="none" stroke="#b0b0b0" stroke-width="1.0"/>
<line x1="166.0" y1="235.3" x2="286.9" y2="235.3" stroke="#cadcca" stroke-width="0.7" />
<line x1="166.0" y1="257.7" x2="286.9" y2="257.7" stroke="#e2caca" stroke-width="0.7" />
<line x1="166.0" y1="280.1" x2="286.9" y2="280.1" stroke="#c0c2e4" stroke-width="0.7" />
<path d="M205.00,235.30 L205.00,235.30 L205.20,235.30 L205.46,235.30 L205.76,235.30 L206.10,235.30 L206.48,235.30 L206.89,235.27 L207.34,235.17 L207.80,235.00 L208.11,234.87 L208.44,234.72 L208.80,234.55 L209.17,234.37 L209.56,234.18 L209.95,233.97 L210.35,233.74 L210.75,233.50 L211.15,233.23 L211.53,232.95 L211.91,232.65 L212.26,232.34 L212.60,232.00 L213.01,231.54 L213.41,231.05 L213.79,230.53 L214.16,229.99 L214.51,229.41 L214.86,228.80 L215.20,228.16 L215.54,227.48 L215.87,226.76 L216.20,226.00 L216.60,224.96 L216.99,223.83 L217.37,222.61 L217.74,221.35 L218.10,220.07 L218.46,218.80 L218.83,217.57 L219.20,216.40 L219.58,215.27 L219.96,214.13 L220.35,213.00 L220.74,211.90 L221.12,210.83 L221.49,209.82 L221.85,208.87 L222.20,208.00 L222.63,206.96 L223.04,206.04 L223.44,205.21 L223.82,204.47 L224.21,203.81 L224.60,203.20 L225.01,202.63 L225.42,202.11 L225.84,201.66 L226.24,201.31 L226.63,201.08 L227.00,201.00 L227.39,201.08 L227.73,201.32 L228.07,201.75 L228.41,202.37 L228.80,203.20 L229.17,204.10 L229.58,205.19 L230.00,206.41 L230.42,207.73 L230.83,209.07 L231.20,210.40 L231.59,212.00 L231.93,213.67 L232.27,215.38 L232.61,217.10 L233.00,218.80 L233.36,220.23 L233.73,221.71 L234.12,223.19 L234.53,224.62 L234.96,225.97 L235.40,227.20 L235.74,228.04 L236.09,228.83 L236.45,229.58 L236.82,230.28 L237.20,230.93 L237.59,231.53 L237.99,232.09 L238.40,232.60 L238.74,232.97 L239.11,233.31 L239.49,233.61 L239.87,233.88 L240.26,234.12 L240.65,234.34 L241.02,234.53 L241.37,234.70 L241.70,234.86 L242.00,235.00 L242.53,235.20 L243.01,235.29 L243.42,235.30 L243.75,235.29 L244.00,235.30 L244.00,235.30 Z" fill="rgb(176,234,168)" style="mix-blend-mode:multiply" stroke="none"/>
<path d="M208.11,234.87 L208.44,234.72 L208.80,234.55 L209.17,234.37 L209.56,234.18 L209.95,233.97 L210.35,233.74 L210.75,233.50 L211.15,233.23 L211.53,232.95 L211.91,232.65 L212.26,232.34 L212.60,232.00 L213.01,231.54 L213.41,231.05 L213.79,230.53 L214.16,229.99 L214.51,229.41 L214.86,228.80 L215.20,228.16 L215.54,227.48 L215.87,226.76 L216.20,226.00 L216.60,224.96 L216.99,223.83 L217.37,222.61 L217.74,221.35 L218.10,220.07 L218.46,218.80 L218.83,217.57 L219.20,216.40 L219.58,215.27 L219.96,214.13 L220.35,213.00 L220.74,211.90 L221.12,210.83 L221.49,209.82 L221.85,208.87 L222.20,208.00 L222.63,206.96 L223.04,206.04 L223.44,205.21 L223.82,204.47 L224.21,203.81 L224.60,203.20 L225.01,202.63 L225.42,202.11 L225.84,201.66 L226.24,201.31 L226.63,201.08 L227.00,201.00 L227.39,201.08 L227.73,201.32 L228.07,201.75 L228.41,202.37 L228.80,203.20 L229.17,204.10 L229.58,205.19 L230.00,206.41 L230.42,207.73 L230.83,209.07 L231.20,210.40 L231.59,212.00 L231.93,213.67 L232.27,215.38 L232.61,217.10 L233.00,218.80 L233.36,220.23 L233.73,221.71 L234.12,223.19 L234.53,224.62 L234.96,225.97 L235.40,227.20 L235.74,228.04 L236.09,228.83 L236.45,229.58 L236.82,230.28 L237.20,230.93 L237.59,231.53 L237.99,232.09 L238.40,232.60 L238.74,232.97 L239.11,233.31 L239.49,233.61 L239.87,233.88 L240.26,234.12 L240.65,234.34 L241.02,234.53 L241.37,234.70 L241.70,234.86" fill="none" stroke="#6cc060" stroke-width="0.75" stroke-linejoin="round"/>
<path d="M228.00,257.70 L228.00,257.70 L228.23,257.67 L228.52,257.66 L228.86,257.64 L229.26,257.59 L229.70,257.50 L230.19,257.34 L230.70,257.10 L231.00,256.94 L231.32,256.76 L231.66,256.57 L232.02,256.37 L232.39,256.15 L232.77,255.91 L233.16,255.66 L233.54,255.38 L233.93,255.07 L234.32,254.75 L234.69,254.39 L235.05,254.01 L235.40,253.60 L235.80,253.07 L236.20,252.49 L236.59,251.87 L236.99,251.21 L237.37,250.52 L237.75,249.81 L238.12,249.07 L238.48,248.31 L238.84,247.55 L239.17,246.77 L239.50,246.00 L239.92,244.90 L240.32,243.75 L240.70,242.55 L241.06,241.34 L241.40,240.12 L241.74,238.91 L242.07,237.73 L242.40,236.60 L242.84,235.12 L243.26,233.65 L243.68,232.21 L244.07,230.83 L244.45,229.55 L244.80,228.40 L245.27,226.90 L245.69,225.61 L246.08,224.55 L246.50,223.70 L246.86,223.20 L247.22,222.85 L247.58,222.64 L247.94,222.53 L248.30,222.50 L248.73,222.55 L249.15,222.73 L249.57,223.10 L250.00,223.70 L250.35,224.36 L250.70,225.16 L251.05,226.10 L251.42,227.18 L251.80,228.40 L252.20,229.80 L252.60,231.37 L253.02,233.07 L253.46,234.83 L253.90,236.60 L254.28,238.12 L254.67,239.73 L255.07,241.38 L255.48,243.00 L255.89,244.56 L256.30,246.00 L256.65,247.15 L256.99,248.27 L257.34,249.34 L257.69,250.35 L258.05,251.30 L258.42,252.19 L258.80,253.00 L259.16,253.65 L259.53,254.24 L259.92,254.79 L260.32,255.28 L260.71,255.73 L261.09,256.13 L261.46,256.49 L261.80,256.80 L262.24,257.13 L262.67,257.35 L263.09,257.49 L263.46,257.57 L263.77,257.64 L264.00,257.70 L264.00,257.70 Z" fill="rgb(249,160,160)" style="mix-blend-mode:multiply" stroke="none"/>
<path d="M230.19,257.34 L230.70,257.10 L231.00,256.94 L231.32,256.76 L231.66,256.57 L232.02,256.37 L232.39,256.15 L232.77,255.91 L233.16,255.66 L233.54,255.38 L233.93,255.07 L234.32,254.75 L234.69,254.39 L235.05,254.01 L235.40,253.60 L235.80,253.07 L236.20,252.49 L236.59,251.87 L236.99,251.21 L237.37,250.52 L237.75,249.81 L238.12,249.07 L238.48,248.31 L238.84,247.55 L239.17,246.77 L239.50,246.00 L239.92,244.90 L240.32,243.75 L240.70,242.55 L241.06,241.34 L241.40,240.12 L241.74,238.91 L242.07,237.73 L242.40,236.60 L242.84,235.12 L243.26,233.65 L243.68,232.21 L244.07,230.83 L244.45,229.55 L244.80,228.40 L245.27,226.90 L245.69,225.61 L246.08,224.55 L246.50,223.70 L246.86,223.20 L247.22,222.85 L247.58,222.64 L247.94,222.53 L248.30,222.50 L248.73,222.55 L249.15,222.73 L249.57,223.10 L250.00,223.70 L250.35,224.36 L250.70,225.16 L251.05,226.10 L251.42,227.18 L251.80,228.40 L252.20,229.80 L252.60,231.37 L253.02,233.07 L253.46,234.83 L253.90,236.60 L254.28,238.12 L254.67,239.73 L255.07,241.38 L255.48,243.00 L255.89,244.56 L256.30,246.00 L256.65,247.15 L256.99,248.27 L257.34,249.34 L257.69,250.35 L258.05,251.30 L258.42,252.19 L258.80,253.00 L259.16,253.65 L259.53,254.24 L259.92,254.79 L260.32,255.28 L260.71,255.73 L261.09,256.13 L261.46,256.49 L261.80,256.80 L262.24,257.13 L262.67,257.35" fill="none" stroke="#c85a5a" stroke-width="0.75" stroke-linejoin="round"/>
<path d="M203.00,280.10 L203.00,280.10 L203.21,280.07 L203.47,280.06 L203.78,280.05 L204.13,280.02 L204.52,279.96 L204.95,279.87 L205.41,279.72 L205.90,279.50 L206.20,279.35 L206.52,279.18 L206.87,279.01 L207.23,278.82 L207.61,278.61 L207.99,278.39 L208.39,278.16 L208.78,277.90 L209.18,277.63 L209.57,277.35 L209.95,277.04 L210.32,276.71 L210.67,276.37 L211.00,275.84 L211.40,275.76 L211.80,275.22 L212.19,274.12 L212.56,273.50 L212.93,273.03 L213.28,272.33 L213.63,271.84 L213.96,271.31 L214.29,270.28 L214.60,269.22 L214.90,268.67 L215.35,267.95 L215.76,266.81 L216.14,265.86 L216.50,264.61 L216.85,263.07 L217.18,262.03 L217.50,261.35 L217.92,259.82 L218.31,258.12 L218.67,256.58 L219.03,254.75 L219.40,253.18 L219.78,252.26 L220.16,250.99 L220.53,249.33 L220.91,248.07 L221.30,246.86 L221.71,245.78 L222.13,245.44 L222.55,244.67 L222.95,243.58 L223.30,243.06 L223.74,242.27 L224.09,241.76 L224.50,242.23 L224.89,242.60 L225.32,242.92 L225.77,244.27 L226.20,245.69 L226.61,247.49 L227.01,249.67 L227.41,251.31 L227.80,253.15 L228.18,255.48 L228.54,257.49 L228.91,259.37 L229.30,261.41 L229.69,263.00 L230.08,264.71 L230.51,267.16 L231.00,269.06 L231.31,270.01 L231.64,271.15 L231.99,272.04 L232.35,272.89 L232.74,274.35 L233.16,275.51 L233.60,275.94 L233.94,276.51 L234.30,276.98 L234.69,277.41 L235.09,277.80 L235.50,278.16 L235.91,278.48 L236.31,278.78 L236.70,279.04 L237.06,279.28 L237.40,279.50 L237.86,279.74 L238.31,279.90 L238.73,279.99 L239.13,280.04 L239.48,280.06 L239.78,280.07 L240.00,280.10 L240.00,280.10 Z" fill="rgb(140,150,244)" style="mix-blend-mode:multiply" stroke="none"/>
<path d="M205.41,279.72 L205.90,279.50 L206.20,279.35 L206.52,279.18 L206.87,279.01 L207.23,278.82 L207.61,278.61 L207.99,278.39 L208.39,278.16 L208.78,277.90 L209.18,277.63 L209.57,277.35 L209.95,277.04 L210.32,276.71 L210.67,276.37 L211.00,275.84 L211.40,275.76 L211.80,275.22 L212.19,274.12 L212.56,273.50 L212.93,273.03 L213.28,272.33 L213.63,271.84 L213.96,271.31 L214.29,270.28 L214.60,269.22 L214.90,268.67 L215.35,267.95 L215.76,266.81 L216.14,265.86 L216.50,264.61 L216.85,263.07 L217.18,262.03 L217.50,261.35 L217.92,259.82 L218.31,258.12 L218.67,256.58 L219.03,254.75 L219.40,253.18 L219.78,252.26 L220.16,250.99 L220.53,249.33 L220.91,248.07 L221.30,246.86 L221.71,245.78 L222.13,245.44 L222.55,244.67 L222.95,243.58 L223.30,243.06 L223.74,242.27 L224.09,241.76 L224.50,242.23 L224.89,242.60 L225.32,242.92 L225.77,244.27 L226.20,245.69 L226.61,247.49 L227.01,249.67 L227.41,251.31 L227.80,253.15 L228.18,255.48 L228.54,257.49 L228.91,259.37 L229.30,261.41 L229.69,263.00 L230.08,264.71 L230.51,267.16 L231.00,269.06 L231.31,270.01 L231.64,271.15 L231.99,272.04 L232.35,272.89 L232.74,274.35 L233.16,275.51 L233.60,275.94 L233.94,276.51 L234.30,276.98 L234.69,277.41 L235.09,277.80 L235.50,278.16 L235.91,278.48 L236.31,278.78 L236.70,279.04 L237.06,279.28 L237.40,279.50 L237.86,279.74" fill="none" stroke="#2e2ea6" stroke-width="0.75" stroke-linejoin="round"/>
<path d="M202.00,301.80 L202.00,301.80 L202.22,301.80 L202.50,301.80 L202.83,301.80 L203.21,301.80 L203.63,301.80 L204.06,301.80 L204.50,301.70 L204.82,301.54 L205.17,301.35 L205.54,301.13 L205.93,300.88 L206.32,300.61 L206.71,300.32 L207.10,300.01 L207.49,299.68 L207.85,299.35 L208.20,299.00 L208.61,298.55 L209.01,298.08 L209.40,297.46 L209.77,296.98 L210.14,296.38 L210.50,295.77 L210.85,295.56 L211.20,295.07 L211.59,293.80 L211.97,292.84 L212.34,292.16 L212.70,291.22 L213.05,290.46 L213.38,289.78 L213.70,288.62 L214.10,286.85 L214.47,285.75 L214.81,284.64 L215.14,283.24 L215.50,281.98 L215.88,280.55 L216.26,278.55 L216.64,277.00 L217.02,275.97 L217.40,274.56 L217.76,273.11 L218.12,271.82 L218.48,270.25 L218.84,268.90 L219.20,268.38 L219.58,267.84 L219.96,266.93 L220.34,266.39 L220.72,265.94 L221.10,265.50 L221.47,265.75 L221.84,266.09 L222.21,265.88 L222.56,265.89 L222.90,266.31 L223.29,266.73 L223.66,267.48 L224.03,268.72 L224.40,269.68 L224.79,270.74 L225.18,272.72 L225.58,274.84 L226.00,276.94 L226.35,278.88 L226.70,280.46 L227.06,281.76 L227.43,283.62 L227.80,285.61 L228.17,287.16 L228.53,288.80 L228.90,290.32 L229.29,291.28 L229.70,292.64 L230.06,294.14 L230.44,295.14 L230.82,295.98 L231.23,296.89 L231.65,297.33 L232.10,298.40 L232.46,298.92 L232.86,299.41 L233.27,299.86 L233.69,300.28 L234.10,300.65 L234.50,300.98 L234.87,301.26 L235.20,301.50 L235.67,301.74 L236.10,301.80 L236.47,301.80 L236.78,301.80 L237.00,301.80 L237.00,301.80 Z" fill="rgb(176,176,176)" style="mix-blend-mode:multiply" stroke="none"/>
<path d="M205.17,301.35 L205.54,301.13 L205.93,300.88 L206.32,300.61 L206.71,300.32 L207.10,300.01 L207.49,299.68 L207.85,299.35 L208.20,299.00 L208.61,298.55 L209.01,298.08 L209.40,297.46 L209.77,296.98 L210.14,296.38 L210.50,295.77 L210.85,295.56 L211.20,295.07 L211.59,293.80 L211.97,292.84 L212.34,292.16 L212.70,291.22 L213.05,290.46 L213.38,289.78 L213.70,288.62 L214.10,286.85 L214.47,285.75 L214.81,284.64 L215.14,283.24 L215.50,281.98 L215.88,280.55 L216.26,278.55 L216.64,277.00 L217.02,275.97 L217.40,274.56 L217.76,273.11 L218.12,271.82 L218.48,270.25 L218.84,268.90 L219.20,268.38 L219.58,267.84 L219.96,266.93 L220.34,266.39 L220.72,265.94 L221.10,265.50 L221.47,265.75 L221.84,266.09 L222.21,265.88 L222.56,265.89 L222.90,266.31 L223.29,266.73 L223.66,267.48 L224.03,268.72 L224.40,269.68 L224.79,270.74 L225.18,272.72 L225.58,274.84 L226.00,276.94 L226.35,278.88 L226.70,280.46 L227.06,281.76 L227.43,283.62 L227.80,285.61 L228.17,287.16 L228.53,288.80 L228.90,290.32 L229.29,291.28 L229.70,292.64 L230.06,294.14 L230.44,295.14 L230.82,295.98 L231.23,296.89 L231.65,297.33 L232.10,298.40 L232.46,298.92 L232.86,299.41 L233.27,299.86 L233.69,300.28 L234.10,300.65 L234.50,300.98 L234.87,301.26" fill="none" stroke="#383838" stroke-width="0.75" stroke-linejoin="round"/>
<text x="263.9" y="232.6" font-size="6.9" font-weight="bold" text-anchor="start" fill="#8ad67a" stroke="#8ad67a" stroke-width="0.26" >Mer</text>
<text x="265.6" y="253.6" font-size="6.9" font-weight="bold" text-anchor="start" fill="#cc5040" stroke="#cc5040" stroke-width="0.26" >Axl</text>
<text x="264.4" y="275.0" font-size="6.9" font-weight="bold" text-anchor="start" fill="#2c34b0" stroke="#2c34b0" stroke-width="0.26" >Tyro3</text>
<text x="258.0" y="296.2" font-size="6.9" font-weight="bold" text-anchor="start" fill="#111" stroke="#111" stroke-width="0.26" >Isotype</text>
<line x1="166.0" y1="301.8" x2="286.9" y2="301.8" stroke="#111" stroke-width="1.25" />
<line x1="184.0" y1="301.8" x2="184.0" y2="303.8" stroke="#111" stroke-width="0.9" />
<text x="183.6" y="310.4" font-size="4.2" fill="#222" stroke="#222" stroke-width="0.22" font-family="Liberation Serif, serif">10<tspan font-size="3.0" dy="-1.8">1</tspan></text>
<line x1="217.6" y1="301.8" x2="217.6" y2="303.8" stroke="#111" stroke-width="0.9" />
<text x="217.2" y="310.4" font-size="4.2" fill="#222" stroke="#222" stroke-width="0.22" font-family="Liberation Serif, serif">10<tspan font-size="3.0" dy="-1.8">2</tspan></text>
<line x1="251.2" y1="301.8" x2="251.2" y2="303.8" stroke="#111" stroke-width="0.9" />
<text x="250.79999999999998" y="310.4" font-size="4.2" fill="#222" stroke="#222" stroke-width="0.22" font-family="Liberation Serif, serif">10<tspan font-size="3.0" dy="-1.8">3</tspan></text>
<line x1="277.6" y1="301.8" x2="277.6" y2="303.8" stroke="#111" stroke-width="0.9" />
<text x="277.20000000000005" y="310.4" font-size="4.2" fill="#222" stroke="#222" stroke-width="0.22" font-family="Liberation Serif, serif">10<tspan font-size="3.0" dy="-1.8">4</tspan></text>
<line x1="166.43" y1="301.8" x2="166.43" y2="303.0" stroke="#333" stroke-width="0.6" />
<line x1="170.63" y1="301.8" x2="170.63" y2="303.0" stroke="#333" stroke-width="0.6" />
<line x1="173.89" y1="301.8" x2="173.89" y2="303.0" stroke="#333" stroke-width="0.6" />
<line x1="176.55" y1="301.8" x2="176.55" y2="303.0" stroke="#333" stroke-width="0.6" />
<line x1="178.8" y1="301.8" x2="178.8" y2="303.0" stroke="#333" stroke-width="0.6" />
<line x1="180.74" y1="301.8" x2="180.74" y2="303.0" stroke="#333" stroke-width="0.6" />
<line x1="182.46" y1="301.8" x2="182.46" y2="303.0" stroke="#333" stroke-width="0.6" />
<line x1="194.11" y1="301.8" x2="194.11" y2="303.0" stroke="#333" stroke-width="0.6" />
<line x1="200.03" y1="301.8" x2="200.03" y2="303.0" stroke="#333" stroke-width="0.6" />
<line x1="204.23" y1="301.8" x2="204.23" y2="303.0" stroke="#333" stroke-width="0.6" />
<line x1="207.49" y1="301.8" x2="207.49" y2="303.0" stroke="#333" stroke-width="0.6" />
<line x1="210.15" y1="301.8" x2="210.15" y2="303.0" stroke="#333" stroke-width="0.6" />
<line x1="212.4" y1="301.8" x2="212.4" y2="303.0" stroke="#333" stroke-width="0.6" />
<line x1="214.34" y1="301.8" x2="214.34" y2="303.0" stroke="#333" stroke-width="0.6" />
<line x1="216.06" y1="301.8" x2="216.06" y2="303.0" stroke="#333" stroke-width="0.6" />
<line x1="227.71" y1="301.8" x2="227.71" y2="303.0" stroke="#333" stroke-width="0.6" />
<line x1="233.63" y1="301.8" x2="233.63" y2="303.0" stroke="#333" stroke-width="0.6" />
<line x1="237.83" y1="301.8" x2="237.83" y2="303.0" stroke="#333" stroke-width="0.6" />
<line x1="241.09" y1="301.8" x2="241.09" y2="303.0" stroke="#333" stroke-width="0.6" />
<line x1="243.75" y1="301.8" x2="243.75" y2="303.0" stroke="#333" stroke-width="0.6" />
<line x1="246.0" y1="301.8" x2="246.0" y2="303.0" stroke="#333" stroke-width="0.6" />
<line x1="247.94" y1="301.8" x2="247.94" y2="303.0" stroke="#333" stroke-width="0.6" />
<line x1="249.66" y1="301.8" x2="249.66" y2="303.0" stroke="#333" stroke-width="0.6" />
<line x1="261.31" y1="301.8" x2="261.31" y2="303.0" stroke="#333" stroke-width="0.6" />
<line x1="267.23" y1="301.8" x2="267.23" y2="303.0" stroke="#333" stroke-width="0.6" />
<line x1="271.43" y1="301.8" x2="271.43" y2="303.0" stroke="#333" stroke-width="0.6" />
<line x1="274.69" y1="301.8" x2="274.69" y2="303.0" stroke="#333" stroke-width="0.6" />
<line x1="277.35" y1="301.8" x2="277.35" y2="303.0" stroke="#333" stroke-width="0.6" />
<line x1="279.6" y1="301.8" x2="279.6" y2="303.0" stroke="#333" stroke-width="0.6" />
<line x1="281.54" y1="301.8" x2="281.54" y2="303.0" stroke="#333" stroke-width="0.6" />
<line x1="283.26" y1="301.8" x2="283.26" y2="303.0" stroke="#333" stroke-width="0.6" />
<text x="167.5" y="318.9" font-size="8.75" font-weight="bold" text-anchor="start" fill="#000" stroke="#000" stroke-width="0.26" >TAM Receptor expression</text>
<line x1="275.2" y1="316.3" x2="285.0" y2="316.3" stroke="#000" stroke-width="1.0" />
<path d="M283.6,314.4 L287.2,316.3 L283.6,318.2 Z" fill="#000"/>
<text x="299.0" y="181.6" font-size="12.6" font-weight="bold" text-anchor="start" fill="#000" stroke="#000" stroke-width="0.5" >D</text>
<text transform="translate(320.9,245.9) rotate(-90)" font-size="8.5" font-weight="bold" text-anchor="middle" fill="#000" stroke="#000" stroke-width="0.26">Receptor expression (mRNA)</text>
<line x1="337.3" y1="181.0" x2="337.3" y2="305.0" stroke="#555" stroke-width="0.9" />
<line x1="335.8" y1="181.2" x2="337.3" y2="181.2" stroke="#000" stroke-width="1.0" />
<text x="335.2" y="183.1" font-size="5.3" font-weight="bold" text-anchor="end" fill="#000" stroke="#000" stroke-width="0.26" >30</text>
<line x1="335.8" y1="221.7" x2="337.3" y2="221.7" stroke="#000" stroke-width="1.0" />
<text x="335.2" y="223.6" font-size="5.3" font-weight="bold" text-anchor="end" fill="#000" stroke="#000" stroke-width="0.26" >20</text>
<line x1="335.8" y1="262.9" x2="337.3" y2="262.9" stroke="#000" stroke-width="1.0" />
<text x="335.2" y="264.8" font-size="5.3" font-weight="bold" text-anchor="end" fill="#000" stroke="#000" stroke-width="0.26" >10</text>
<line x1="335.8" y1="304.6" x2="337.3" y2="304.6" stroke="#000" stroke-width="1.0" />
<text x="335.2" y="306.5" font-size="5.3" font-weight="bold" text-anchor="end" fill="#000" stroke="#000" stroke-width="0.26" >0</text>
<line x1="336.90000000000003" y1="305.0" x2="404.3" y2="305.0" stroke="#000" stroke-width="2.0" />
<line x1="357.4" y1="266.0" x2="357.4" y2="273.5" stroke="#000" stroke-width="0.9" />
<line x1="352.7" y1="266.0" x2="362.1" y2="266.0" stroke="#000" stroke-width="1.2" />
<rect x="347.6" y="273.5" width="19.8" height="31.0" fill="#000" stroke="none" stroke-width="0"/>
<line x1="386.8" y1="201.6" x2="386.8" y2="213.7" stroke="#000" stroke-width="0.9" />
<line x1="382.0" y1="201.6" x2="391.8" y2="201.6" stroke="#000" stroke-width="1.2" />
<rect x="376.9" y="213.7" width="20.0" height="90.6" fill="#bdbdbd" stroke="none" stroke-width="0"/>
<line x1="357.5" y1="304.8" x2="357.5" y2="307.8" stroke="#000" stroke-width="1.0" />
<line x1="386.8" y1="304.8" x2="386.8" y2="307.8" stroke="#000" stroke-width="1.0" />
<line x1="353.4" y1="195.5" x2="386.1" y2="195.5" stroke="#000" stroke-width="1.7" />
<text x="375.6" y="193.6" font-size="11.0" font-weight="bold" text-anchor="middle" fill="#000" stroke="#000" stroke-width="0.26" >****</text>
<text x="357.6" y="317.9" font-size="8.4" font-weight="bold" text-anchor="middle" fill="#000" stroke="#000" stroke-width="0.26" >Axl</text>
<text x="387.2" y="317.9" font-size="8.4" font-weight="bold" text-anchor="middle" fill="#000" stroke="#000" stroke-width="0.26" >Mer</text>
<text x="370.5" y="328.7" font-size="8.6" font-weight="bold" text-anchor="middle" fill="#000" stroke="#000" stroke-width="0.26" >Tumor-associated</text>
<text x="370.5" y="338.2" font-size="8.5" font-weight="bold" text-anchor="middle" fill="#000" stroke="#000" stroke-width="0.26" >macrophages</text>
</svg>
</body></html>
